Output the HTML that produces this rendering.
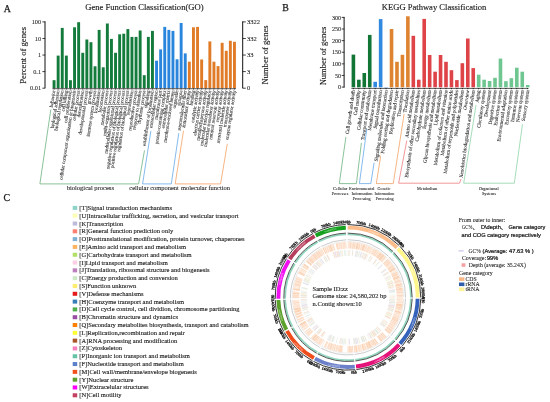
<!DOCTYPE html>
<html><head><meta charset="utf-8"><style>
html,body{margin:0;padding:0;background:#fff;width:550px;height:402px;overflow:hidden}
svg{display:block;filter:blur(0.15px)}
.s{font-family:"Liberation Serif","Noto Serif CJK SC",serif;fill:#1a1a1a;stroke:#1a1a1a;stroke-width:0.07px}
.cl{fill:#111;stroke:#111;stroke-width:0.28px}
.t{stroke-width:0.25px}
.t2{stroke-width:0.14px}
.cg{stroke-width:0.12px}
.cn{font-family:"Liberation Sans",sans-serif}
.lab{fill:#222;stroke:#222;stroke-width:0.08px}
.a{font-family:"Liberation Sans","Noto Sans CJK SC",sans-serif;fill:#1a1a1a}
.k{font-family:"Liberation Sans","Noto Sans CJK SC",sans-serif;fill:#1a1a1a;stroke:#1a1a1a;stroke-width:0.22px}
</style></head><body>
<svg width="550" height="402" viewBox="0 0 550 402">
<rect width="550" height="402" fill="#fff"/>
<text class="s t" x="3.7" y="11.5" font-size="9.8">A</text>
<text class="s t2" x="144.4" y="10.2" font-size="8.6" text-anchor="middle">Gene Function Classification(GO)</text>
<path d="M45.0 21.4 V88.2" stroke="#111" stroke-width="1.0" fill="none"/>
<path d="M42.4 21.9 H45.2" stroke="#111" stroke-width="0.8"/>
<text class="s" x="41.1" y="24.05" font-size="6.3" text-anchor="end">100</text>
<path d="M42.4 38.5 H45.2" stroke="#111" stroke-width="0.8"/>
<text class="s" x="41.1" y="40.65" font-size="6.3" text-anchor="end">10</text>
<path d="M42.4 55.05 H45.2" stroke="#111" stroke-width="0.8"/>
<text class="s" x="41.1" y="57.2" font-size="6.3" text-anchor="end">1</text>
<path d="M42.4 71.6 H45.2" stroke="#111" stroke-width="0.8"/>
<text class="s" x="41.1" y="73.75" font-size="6.3" text-anchor="end">0.1</text>
<path d="M42.4 88.2 H45.2" stroke="#111" stroke-width="0.8"/>
<text class="s" x="41.1" y="90.35" font-size="6.3" text-anchor="end">0.01</text>
<path d="M242.7 21.4 V88.2" stroke="#111" stroke-width="1.0" fill="none"/>
<path d="M242.5 21.9 H245.8" stroke="#111" stroke-width="0.8"/>
<text class="s" x="247.0" y="24.1" font-size="6.5">3322</text>
<path d="M242.5 38.5 H245.8" stroke="#111" stroke-width="0.8"/>
<text class="s" x="247.0" y="40.7" font-size="6.5">332</text>
<path d="M242.5 55.05 H245.8" stroke="#111" stroke-width="0.8"/>
<text class="s" x="247.0" y="57.25" font-size="6.5">33</text>
<path d="M242.5 71.6 H245.8" stroke="#111" stroke-width="0.8"/>
<text class="s" x="247.0" y="73.8" font-size="6.5">3</text>
<path d="M242.5 88.2 H245.8" stroke="#111" stroke-width="0.8"/>
<text class="s" x="247.0" y="90.4" font-size="6.5">0</text>
<text class="s t2" font-size="8.6" text-anchor="middle" transform="translate(26.3 55.3) rotate(-90)">Percent of genes</text>
<text class="s t2" font-size="8.6" text-anchor="middle" transform="translate(267.6 55.0) rotate(-90)">Number of genes</text>
<rect x="52.6" y="80.2" width="2.9" height="7.9" fill="#137b3b"/>
<rect x="56.7" y="55.6" width="2.9" height="32.5" fill="#137b3b"/>
<rect x="60.8" y="27.9" width="2.9" height="60.2" fill="#137b3b"/>
<rect x="64.9" y="55.6" width="2.9" height="32.5" fill="#137b3b"/>
<rect x="69" y="80.2" width="2.9" height="7.9" fill="#137b3b"/>
<rect x="73.1" y="27.3" width="2.9" height="60.8" fill="#137b3b"/>
<rect x="77.2" y="22.2" width="2.9" height="65.9" fill="#137b3b"/>
<rect x="81.3" y="52.8" width="2.9" height="35.3" fill="#137b3b"/>
<rect x="85.4" y="39.5" width="2.9" height="48.6" fill="#137b3b"/>
<rect x="89.5" y="42.2" width="2.9" height="45.9" fill="#137b3b"/>
<rect x="93.6" y="66.3" width="2.9" height="21.8" fill="#137b3b"/>
<rect x="97.7" y="29.9" width="2.9" height="58.2" fill="#137b3b"/>
<rect x="101.8" y="67.3" width="2.9" height="20.8" fill="#137b3b"/>
<rect x="105.9" y="23.5" width="2.9" height="64.6" fill="#137b3b"/>
<rect x="110" y="38.9" width="2.9" height="49.2" fill="#137b3b"/>
<rect x="114.1" y="52.8" width="2.9" height="35.3" fill="#137b3b"/>
<rect x="118.2" y="34.3" width="2.9" height="53.8" fill="#137b3b"/>
<rect x="122.3" y="33.7" width="2.9" height="54.4" fill="#137b3b"/>
<rect x="126.4" y="29.1" width="2.9" height="59" fill="#137b3b"/>
<rect x="130.5" y="36.9" width="2.9" height="51.2" fill="#137b3b"/>
<rect x="134.6" y="36.9" width="2.9" height="51.2" fill="#137b3b"/>
<rect x="138.7" y="30.5" width="2.9" height="57.6" fill="#137b3b"/>
<rect x="142.8" y="75.2" width="2.9" height="12.9" fill="#137b3b"/>
<rect x="146.9" y="36.9" width="2.9" height="51.2" fill="#137b3b"/>
<rect x="151" y="30.9" width="2.9" height="57.2" fill="#137b3b"/>
<rect x="155.1" y="60.7" width="2.9" height="27.4" fill="#2a85dc"/>
<rect x="159.2" y="49.4" width="2.9" height="38.7" fill="#2a85dc"/>
<rect x="163.3" y="26.9" width="2.9" height="61.2" fill="#2a85dc"/>
<rect x="167.4" y="29.9" width="2.9" height="58.2" fill="#2a85dc"/>
<rect x="171.5" y="30.9" width="2.9" height="57.2" fill="#2a85dc"/>
<rect x="175.6" y="59.3" width="2.9" height="28.8" fill="#2a85dc"/>
<rect x="179.7" y="23" width="2.9" height="65.1" fill="#2a85dc"/>
<rect x="183.8" y="53.4" width="2.9" height="34.7" fill="#2a85dc"/>
<rect x="187.9" y="61.7" width="2.9" height="26.4" fill="#e07b27"/>
<rect x="192" y="27.3" width="2.9" height="60.8" fill="#e07b27"/>
<rect x="196.1" y="26.9" width="2.9" height="61.2" fill="#e07b27"/>
<rect x="200.2" y="59.5" width="2.9" height="28.6" fill="#e07b27"/>
<rect x="204.3" y="80.1" width="2.9" height="8" fill="#e07b27"/>
<rect x="208.4" y="41.4" width="2.9" height="46.7" fill="#e07b27"/>
<rect x="212.5" y="61.7" width="2.9" height="26.4" fill="#e07b27"/>
<rect x="216.6" y="66.1" width="2.9" height="22" fill="#e07b27"/>
<rect x="220.7" y="42.8" width="2.9" height="45.3" fill="#e07b27"/>
<rect x="224.8" y="50.8" width="2.9" height="37.3" fill="#e07b27"/>
<rect x="228.9" y="40.8" width="2.9" height="47.3" fill="#e07b27"/>
<rect x="233" y="41.8" width="2.9" height="46.3" fill="#e07b27"/>
<path d="M52.4 88.7 H236" stroke="#111" stroke-width="0.7"/>
<path d="M54.05 88.4 V89.5" stroke="#111" stroke-width="0.8"/>
<path d="M58.15 88.4 V89.5" stroke="#111" stroke-width="0.8"/>
<path d="M62.25 88.4 V89.5" stroke="#111" stroke-width="0.8"/>
<path d="M66.35 88.4 V89.5" stroke="#111" stroke-width="0.8"/>
<path d="M70.45 88.4 V89.5" stroke="#111" stroke-width="0.8"/>
<path d="M74.55 88.4 V89.5" stroke="#111" stroke-width="0.8"/>
<path d="M78.65 88.4 V89.5" stroke="#111" stroke-width="0.8"/>
<path d="M82.75 88.4 V89.5" stroke="#111" stroke-width="0.8"/>
<path d="M86.85 88.4 V89.5" stroke="#111" stroke-width="0.8"/>
<path d="M90.95 88.4 V89.5" stroke="#111" stroke-width="0.8"/>
<path d="M95.05 88.4 V89.5" stroke="#111" stroke-width="0.8"/>
<path d="M99.15 88.4 V89.5" stroke="#111" stroke-width="0.8"/>
<path d="M103.25 88.4 V89.5" stroke="#111" stroke-width="0.8"/>
<path d="M107.35 88.4 V89.5" stroke="#111" stroke-width="0.8"/>
<path d="M111.45 88.4 V89.5" stroke="#111" stroke-width="0.8"/>
<path d="M115.55 88.4 V89.5" stroke="#111" stroke-width="0.8"/>
<path d="M119.65 88.4 V89.5" stroke="#111" stroke-width="0.8"/>
<path d="M123.75 88.4 V89.5" stroke="#111" stroke-width="0.8"/>
<path d="M127.85 88.4 V89.5" stroke="#111" stroke-width="0.8"/>
<path d="M131.95 88.4 V89.5" stroke="#111" stroke-width="0.8"/>
<path d="M136.05 88.4 V89.5" stroke="#111" stroke-width="0.8"/>
<path d="M140.15 88.4 V89.5" stroke="#111" stroke-width="0.8"/>
<path d="M144.25 88.4 V89.5" stroke="#111" stroke-width="0.8"/>
<path d="M148.35 88.4 V89.5" stroke="#111" stroke-width="0.8"/>
<path d="M152.45 88.4 V89.5" stroke="#111" stroke-width="0.8"/>
<path d="M156.55 88.4 V89.5" stroke="#111" stroke-width="0.8"/>
<path d="M160.65 88.4 V89.5" stroke="#111" stroke-width="0.8"/>
<path d="M164.75 88.4 V89.5" stroke="#111" stroke-width="0.8"/>
<path d="M168.85 88.4 V89.5" stroke="#111" stroke-width="0.8"/>
<path d="M172.95 88.4 V89.5" stroke="#111" stroke-width="0.8"/>
<path d="M177.05 88.4 V89.5" stroke="#111" stroke-width="0.8"/>
<path d="M181.15 88.4 V89.5" stroke="#111" stroke-width="0.8"/>
<path d="M185.25 88.4 V89.5" stroke="#111" stroke-width="0.8"/>
<path d="M189.35 88.4 V89.5" stroke="#111" stroke-width="0.8"/>
<path d="M193.45 88.4 V89.5" stroke="#111" stroke-width="0.8"/>
<path d="M197.55 88.4 V89.5" stroke="#111" stroke-width="0.8"/>
<path d="M201.65 88.4 V89.5" stroke="#111" stroke-width="0.8"/>
<path d="M205.75 88.4 V89.5" stroke="#111" stroke-width="0.8"/>
<path d="M209.85 88.4 V89.5" stroke="#111" stroke-width="0.8"/>
<path d="M213.95 88.4 V89.5" stroke="#111" stroke-width="0.8"/>
<path d="M218.05 88.4 V89.5" stroke="#111" stroke-width="0.8"/>
<path d="M222.15 88.4 V89.5" stroke="#111" stroke-width="0.8"/>
<path d="M226.25 88.4 V89.5" stroke="#111" stroke-width="0.8"/>
<path d="M230.35 88.4 V89.5" stroke="#111" stroke-width="0.8"/>
<path d="M234.45 88.4 V89.5" stroke="#111" stroke-width="0.8"/>
<text class="s lab" x="0" y="0" font-size="4.9" text-anchor="end" transform="translate(55.35 90.6) rotate(-81.5)">behavior</text>
<text class="s lab" x="0" y="0" font-size="4.9" text-anchor="end" transform="translate(59.45 90.6) rotate(-81.5)">biological adhesion</text>
<text class="s lab" x="0" y="0" font-size="4.9" text-anchor="end" transform="translate(63.55 90.6) rotate(-81.5)">biological regulation</text>
<text class="s lab" x="0" y="0" font-size="4.9" text-anchor="end" transform="translate(67.65 90.6) rotate(-81.5)">cell killing</text>
<text class="s lab" x="0" y="0" font-size="4.9" text-anchor="end" transform="translate(71.75 90.6) rotate(-81.5)">cell proliferation</text>
<text class="s lab" x="0" y="0" font-size="4.9" text-anchor="end" transform="translate(75.85 90.6) rotate(-81.5)">cellular component organization or biogenesis</text>
<text class="s lab" x="0" y="0" font-size="4.9" text-anchor="end" transform="translate(79.95 90.6) rotate(-81.5)">cellular process</text>
<text class="s lab" x="0" y="0" font-size="4.9" text-anchor="end" transform="translate(84.05 90.6) rotate(-81.5)">detoxification</text>
<text class="s lab" x="0" y="0" font-size="4.9" text-anchor="end" transform="translate(88.15 90.6) rotate(-81.5)">developmental process</text>
<text class="s lab" x="0" y="0" font-size="4.9" text-anchor="end" transform="translate(92.25 90.6) rotate(-81.5)">growth</text>
<text class="s lab" x="0" y="0" font-size="4.9" text-anchor="end" transform="translate(96.35 90.6) rotate(-81.5)">immune system process</text>
<text class="s lab" x="0" y="0" font-size="4.9" text-anchor="end" transform="translate(100.45 90.6) rotate(-81.5)">localization</text>
<text class="s lab" x="0" y="0" font-size="4.9" text-anchor="end" transform="translate(104.55 90.6) rotate(-81.5)">locomotion</text>
<text class="s lab" x="0" y="0" font-size="4.9" text-anchor="end" transform="translate(108.65 90.6) rotate(-81.5)">metabolic process</text>
<text class="s lab" x="0" y="0" font-size="4.9" text-anchor="end" transform="translate(112.75 90.6) rotate(-81.5)">multi-organism process</text>
<text class="s lab" x="0" y="0" font-size="4.9" text-anchor="end" transform="translate(116.85 90.6) rotate(-81.5)">multicellular organismal process</text>
<text class="s lab" x="0" y="0" font-size="4.9" text-anchor="end" transform="translate(120.95 90.6) rotate(-81.5)">negative regulation of biological process</text>
<text class="s lab" x="0" y="0" font-size="4.9" text-anchor="end" transform="translate(125.05 90.6) rotate(-81.5)">positive regulation of biological process</text>
<text class="s lab" x="0" y="0" font-size="4.9" text-anchor="end" transform="translate(129.15 90.6) rotate(-81.5)">regulation of biological process</text>
<text class="s lab" x="0" y="0" font-size="4.9" text-anchor="end" transform="translate(133.25 90.6) rotate(-81.5)">reproduction</text>
<text class="s lab" x="0" y="0" font-size="4.9" text-anchor="end" transform="translate(137.35 90.6) rotate(-81.5)">reproductive process</text>
<text class="s lab" x="0" y="0" font-size="4.9" text-anchor="end" transform="translate(141.45 90.6) rotate(-81.5)">response to stimulus</text>
<text class="s lab" x="0" y="0" font-size="4.9" text-anchor="end" transform="translate(145.55 90.6) rotate(-81.5)">rhythmic process</text>
<text class="s lab" x="0" y="0" font-size="4.9" text-anchor="end" transform="translate(149.65 90.6) rotate(-81.5)">signaling</text>
<text class="s lab" x="0" y="0" font-size="4.9" text-anchor="end" transform="translate(153.75 90.6) rotate(-81.5)">establishment of localization</text>
<text class="s lab" x="0" y="0" font-size="4.9" text-anchor="end" transform="translate(157.85 90.6) rotate(-81.5)">extracellular region</text>
<text class="s lab" x="0" y="0" font-size="4.9" text-anchor="end" transform="translate(161.95 90.6) rotate(-81.5)">membrane part</text>
<text class="s lab" x="0" y="0" font-size="4.9" text-anchor="end" transform="translate(166.05 90.6) rotate(-81.5)">protein-containing complex</text>
<text class="s lab" x="0" y="0" font-size="4.9" text-anchor="end" transform="translate(170.15 90.6) rotate(-81.5)">extracellular matrix</text>
<text class="s lab" x="0" y="0" font-size="4.9" text-anchor="end" transform="translate(174.25 90.6) rotate(-81.5)">membrane-enclosed lumen</text>
<text class="s lab" x="0" y="0" font-size="4.9" text-anchor="end" transform="translate(178.35 90.6) rotate(-81.5)">organelle</text>
<text class="s lab" x="0" y="0" font-size="4.9" text-anchor="end" transform="translate(182.45 90.6) rotate(-81.5)">synapse</text>
<text class="s lab" x="0" y="0" font-size="4.9" text-anchor="end" transform="translate(186.55 90.6) rotate(-81.5)">supramolecular fiber</text>
<text class="s lab" x="0" y="0" font-size="4.9" text-anchor="end" transform="translate(190.65 90.6) rotate(-81.5)">antioxidant activity</text>
<text class="s lab" x="0" y="0" font-size="4.9" text-anchor="end" transform="translate(194.75 90.6) rotate(-81.5)">binding</text>
<text class="s lab" x="0" y="0" font-size="4.9" text-anchor="end" transform="translate(198.85 90.6) rotate(-81.5)">catalytic activity</text>
<text class="s lab" x="0" y="0" font-size="4.9" text-anchor="end" transform="translate(202.95 90.6) rotate(-81.5)">electron carrier activity</text>
<text class="s lab" x="0" y="0" font-size="4.9" text-anchor="end" transform="translate(207.05 90.6) rotate(-81.5)">metallochaperone activity</text>
<text class="s lab" x="0" y="0" font-size="4.9" text-anchor="end" transform="translate(211.15 90.6) rotate(-81.5)">molecular function regulator</text>
<text class="s lab" x="0" y="0" font-size="4.9" text-anchor="end" transform="translate(215.25 90.6) rotate(-81.5)">molecular transducer activity</text>
<text class="s lab" x="0" y="0" font-size="4.9" text-anchor="end" transform="translate(219.35 90.6) rotate(-81.5)">nutrient reservoir activity</text>
<text class="s lab" x="0" y="0" font-size="4.9" text-anchor="end" transform="translate(223.45 90.6) rotate(-81.5)">receptor activity</text>
<text class="s lab" x="0" y="0" font-size="4.9" text-anchor="end" transform="translate(227.55 90.6) rotate(-81.5)">structural molecule activity</text>
<text class="s lab" x="0" y="0" font-size="4.9" text-anchor="end" transform="translate(231.65 90.6) rotate(-81.5)">transporter activity</text>
<text class="s lab" x="0" y="0" font-size="4.9" text-anchor="end" transform="translate(235.75 90.6) rotate(-81.5)">enzyme regulator activity</text>
<path d="M50.8 109.5 L39.9 183.9 H138.6 L144.5 150.4" stroke="#6db37f" stroke-width="0.8" fill="none"/>
<path d="M150.9 130.8 L142.6 183.9 H171.3 L178.8 133.1" stroke="#66aaea" stroke-width="0.8" fill="none"/>
<path d="M183.5 130.8 L175.2 183.9 H220.6 L227.3 143.8" stroke="#f2a266" stroke-width="0.8" fill="none"/>
<text class="s" x="90.3" y="190.2" font-size="6.45" text-anchor="middle" textLength="47.3" lengthAdjust="spacingAndGlyphs">biological process</text>
<text class="s" x="154.05" y="190.2" font-size="6.45" text-anchor="middle" textLength="49.5" lengthAdjust="spacingAndGlyphs">cellular component</text>
<text class="s" x="205.5" y="190.2" font-size="6.45" text-anchor="middle" textLength="49.0" lengthAdjust="spacingAndGlyphs">molecular function</text>
<text class="s t" x="282.2" y="10.9" font-size="9.8">B</text>
<text class="s t2" x="434.1" y="9.9" font-size="8.55" text-anchor="middle">KEGG Pathway Classification</text>
<path d="M344.1 16.9 V87.6" stroke="#111" stroke-width="1.0" fill="none"/>
<path d="M341.7 87.1 H344.3" stroke="#111" stroke-width="0.8"/>
<text class="s" x="341.2" y="89.2" font-size="6.2" text-anchor="end">0</text>
<path d="M341.7 75.48 H344.3" stroke="#111" stroke-width="0.8"/>
<text class="s" x="341.2" y="77.58" font-size="6.2" text-anchor="end">50</text>
<path d="M341.7 63.87 H344.3" stroke="#111" stroke-width="0.8"/>
<text class="s" x="341.2" y="65.97" font-size="6.2" text-anchor="end">100</text>
<path d="M341.7 52.25 H344.3" stroke="#111" stroke-width="0.8"/>
<text class="s" x="341.2" y="54.35" font-size="6.2" text-anchor="end">150</text>
<path d="M341.7 40.63 H344.3" stroke="#111" stroke-width="0.8"/>
<text class="s" x="341.2" y="42.73" font-size="6.2" text-anchor="end">200</text>
<path d="M341.7 29.02 H344.3" stroke="#111" stroke-width="0.8"/>
<text class="s" x="341.2" y="31.12" font-size="6.2" text-anchor="end">250</text>
<path d="M341.7 17.4 H344.3" stroke="#111" stroke-width="0.8"/>
<text class="s" x="341.2" y="19.5" font-size="6.2" text-anchor="end">300</text>
<text class="s t2" font-size="8.5" text-anchor="middle" transform="translate(326.0 56.0) rotate(-90)">Number of genes</text>
<rect x="351.6" y="54.6" width="3.6" height="32.7" fill="#117535"/>
<rect x="357.05" y="79.7" width="3.6" height="7.6" fill="#117535"/>
<rect x="362.49" y="73" width="3.6" height="14.3" fill="#117535"/>
<rect x="367.94" y="34.9" width="3.6" height="52.4" fill="#117535"/>
<rect x="373.39" y="81.8" width="3.6" height="5.5" fill="#3189e0"/>
<rect x="378.84" y="19.1" width="3.6" height="68.2" fill="#3189e0"/>
<rect x="384.28" y="87" width="3.6" height="0.3" fill="#3189e0"/>
<rect x="389.73" y="29" width="3.6" height="58.3" fill="#de8330"/>
<rect x="395.18" y="61.8" width="3.6" height="25.5" fill="#de8330"/>
<rect x="400.62" y="54.8" width="3.6" height="32.5" fill="#de8330"/>
<rect x="406.07" y="16.3" width="3.6" height="71" fill="#de8330"/>
<rect x="411.52" y="35.8" width="3.6" height="51.5" fill="#de4348"/>
<rect x="416.96" y="79.7" width="3.6" height="7.6" fill="#de4348"/>
<rect x="422.41" y="18.9" width="3.6" height="68.4" fill="#de4348"/>
<rect x="427.86" y="55" width="3.6" height="32.3" fill="#de4348"/>
<rect x="433.31" y="71.7" width="3.6" height="15.6" fill="#de4348"/>
<rect x="438.75" y="55" width="3.6" height="32.3" fill="#de4348"/>
<rect x="444.2" y="61.8" width="3.6" height="25.5" fill="#de4348"/>
<rect x="449.65" y="70.2" width="3.6" height="17.1" fill="#de4348"/>
<rect x="455.09" y="80.1" width="3.6" height="7.2" fill="#de4348"/>
<rect x="460.54" y="63.2" width="3.6" height="24.1" fill="#de4348"/>
<rect x="465.99" y="38.5" width="3.6" height="48.8" fill="#de4348"/>
<rect x="471.43" y="68.1" width="3.6" height="19.2" fill="#de4348"/>
<rect x="476.88" y="74.7" width="3.6" height="12.6" fill="#6fc690"/>
<rect x="482.33" y="79.7" width="3.6" height="7.6" fill="#6fc690"/>
<rect x="487.78" y="81" width="3.6" height="6.3" fill="#6fc690"/>
<rect x="493.22" y="77.8" width="3.6" height="9.5" fill="#6fc690"/>
<rect x="498.67" y="58.6" width="3.6" height="28.7" fill="#6fc690"/>
<rect x="504.12" y="81.2" width="3.6" height="6.1" fill="#6fc690"/>
<rect x="509.56" y="78.2" width="3.6" height="9.1" fill="#6fc690"/>
<rect x="515.01" y="67.7" width="3.6" height="19.6" fill="#6fc690"/>
<rect x="520.46" y="71.7" width="3.6" height="15.6" fill="#6fc690"/>
<rect x="525.9" y="85" width="3.6" height="2.3" fill="#6fc690"/>
<path d="M351.4 88.4 H528.3" stroke="#111" stroke-width="0.7"/>
<path d="M353.4 88.1 V89.2" stroke="#111" stroke-width="0.9"/>
<path d="M358.85 88.1 V89.2" stroke="#111" stroke-width="0.9"/>
<path d="M364.29 88.1 V89.2" stroke="#111" stroke-width="0.9"/>
<path d="M369.74 88.1 V89.2" stroke="#111" stroke-width="0.9"/>
<path d="M375.19 88.1 V89.2" stroke="#111" stroke-width="0.9"/>
<path d="M380.64 88.1 V89.2" stroke="#111" stroke-width="0.9"/>
<path d="M386.08 88.1 V89.2" stroke="#111" stroke-width="0.9"/>
<path d="M391.53 88.1 V89.2" stroke="#111" stroke-width="0.9"/>
<path d="M396.98 88.1 V89.2" stroke="#111" stroke-width="0.9"/>
<path d="M402.42 88.1 V89.2" stroke="#111" stroke-width="0.9"/>
<path d="M407.87 88.1 V89.2" stroke="#111" stroke-width="0.9"/>
<path d="M413.32 88.1 V89.2" stroke="#111" stroke-width="0.9"/>
<path d="M418.76 88.1 V89.2" stroke="#111" stroke-width="0.9"/>
<path d="M424.21 88.1 V89.2" stroke="#111" stroke-width="0.9"/>
<path d="M429.66 88.1 V89.2" stroke="#111" stroke-width="0.9"/>
<path d="M435.11 88.1 V89.2" stroke="#111" stroke-width="0.9"/>
<path d="M440.55 88.1 V89.2" stroke="#111" stroke-width="0.9"/>
<path d="M446 88.1 V89.2" stroke="#111" stroke-width="0.9"/>
<path d="M451.45 88.1 V89.2" stroke="#111" stroke-width="0.9"/>
<path d="M456.89 88.1 V89.2" stroke="#111" stroke-width="0.9"/>
<path d="M462.34 88.1 V89.2" stroke="#111" stroke-width="0.9"/>
<path d="M467.79 88.1 V89.2" stroke="#111" stroke-width="0.9"/>
<path d="M473.23 88.1 V89.2" stroke="#111" stroke-width="0.9"/>
<path d="M478.68 88.1 V89.2" stroke="#111" stroke-width="0.9"/>
<path d="M484.13 88.1 V89.2" stroke="#111" stroke-width="0.9"/>
<path d="M489.58 88.1 V89.2" stroke="#111" stroke-width="0.9"/>
<path d="M495.02 88.1 V89.2" stroke="#111" stroke-width="0.9"/>
<path d="M500.47 88.1 V89.2" stroke="#111" stroke-width="0.9"/>
<path d="M505.92 88.1 V89.2" stroke="#111" stroke-width="0.9"/>
<path d="M511.36 88.1 V89.2" stroke="#111" stroke-width="0.9"/>
<path d="M516.81 88.1 V89.2" stroke="#111" stroke-width="0.9"/>
<path d="M522.26 88.1 V89.2" stroke="#111" stroke-width="0.9"/>
<path d="M527.7 88.1 V89.2" stroke="#111" stroke-width="0.9"/>
<text class="s lab" x="0" y="0" font-size="5.0" text-anchor="end" transform="translate(354.9 90.4) rotate(-82)">Cell growth and death</text>
<text class="s lab" x="0" y="0" font-size="5.0" text-anchor="end" transform="translate(360.35 90.4) rotate(-82)">Cell motility</text>
<text class="s lab" x="0" y="0" font-size="5.0" text-anchor="end" transform="translate(365.79 90.4) rotate(-82)">Cellular community</text>
<text class="s lab" x="0" y="0" font-size="5.0" text-anchor="end" transform="translate(371.24 90.4) rotate(-82)">Transport and catabolism</text>
<text class="s lab" x="0" y="0" font-size="5.0" text-anchor="end" transform="translate(376.69 90.4) rotate(-82)">Membrane transport</text>
<text class="s lab" x="0" y="0" font-size="5.0" text-anchor="end" transform="translate(382.14 90.4) rotate(-82)">Signal transduction</text>
<text class="s lab" x="0" y="0" font-size="5.0" text-anchor="end" transform="translate(387.58 90.4) rotate(-82)">Signaling molecules and interaction</text>
<text class="s lab" x="0" y="0" font-size="5.0" text-anchor="end" transform="translate(393.03 90.4) rotate(-82)">Folding sorting and degradation</text>
<text class="s lab" x="0" y="0" font-size="5.0" text-anchor="end" transform="translate(398.48 90.4) rotate(-82)">Replication and repair</text>
<text class="s lab" x="0" y="0" font-size="5.0" text-anchor="end" transform="translate(403.92 90.4) rotate(-82)">Transcription</text>
<text class="s lab" x="0" y="0" font-size="5.0" text-anchor="end" transform="translate(409.37 90.4) rotate(-82)">Translation</text>
<text class="s lab" x="0" y="0" font-size="5.0" text-anchor="end" transform="translate(414.82 90.4) rotate(-82)">Amino acid metabolism</text>
<text class="s lab" x="0" y="0" font-size="5.0" text-anchor="end" transform="translate(420.26 90.4) rotate(-82)">Biosynthesis of other secondary metabolites</text>
<text class="s lab" x="0" y="0" font-size="5.0" text-anchor="end" transform="translate(425.71 90.4) rotate(-82)">Carbohydrate metabolism</text>
<text class="s lab" x="0" y="0" font-size="5.0" text-anchor="end" transform="translate(431.16 90.4) rotate(-82)">Energy metabolism</text>
<text class="s lab" x="0" y="0" font-size="5.0" text-anchor="end" transform="translate(436.61 90.4) rotate(-82)">Glycan biosynthesis and metabolism</text>
<text class="s lab" x="0" y="0" font-size="5.0" text-anchor="end" transform="translate(442.05 90.4) rotate(-82)">Lipid metabolism</text>
<text class="s lab" x="0" y="0" font-size="5.0" text-anchor="end" transform="translate(447.5 90.4) rotate(-82)">Metabolism of cofactors and vitamins</text>
<text class="s lab" x="0" y="0" font-size="5.0" text-anchor="end" transform="translate(452.95 90.4) rotate(-82)">Metabolism of other amino acids</text>
<text class="s lab" x="0" y="0" font-size="5.0" text-anchor="end" transform="translate(458.39 90.4) rotate(-82)">Metabolism of terpenoids and polyketides</text>
<text class="s lab" x="0" y="0" font-size="5.0" text-anchor="end" transform="translate(463.84 90.4) rotate(-82)">Nucleotide metabolism</text>
<text class="s lab" x="0" y="0" font-size="5.0" text-anchor="end" transform="translate(469.29 90.4) rotate(-82)">Overview</text>
<text class="s lab" x="0" y="0" font-size="5.0" text-anchor="end" transform="translate(474.73 90.4) rotate(-82)">Xenobiotics biodegradation and metabolism</text>
<text class="s lab" x="0" y="0" font-size="5.0" text-anchor="end" transform="translate(480.18 90.4) rotate(-82)">Aging</text>
<text class="s lab" x="0" y="0" font-size="5.0" text-anchor="end" transform="translate(485.63 90.4) rotate(-82)">Circulatory system</text>
<text class="s lab" x="0" y="0" font-size="5.0" text-anchor="end" transform="translate(491.08 90.4) rotate(-82)">Development</text>
<text class="s lab" x="0" y="0" font-size="5.0" text-anchor="end" transform="translate(496.52 90.4) rotate(-82)">Digestive system</text>
<text class="s lab" x="0" y="0" font-size="5.0" text-anchor="end" transform="translate(501.97 90.4) rotate(-82)">Endocrine system</text>
<text class="s lab" x="0" y="0" font-size="5.0" text-anchor="end" transform="translate(507.42 90.4) rotate(-82)">Environmental adaptation</text>
<text class="s lab" x="0" y="0" font-size="5.0" text-anchor="end" transform="translate(512.86 90.4) rotate(-82)">Excretory system</text>
<text class="s lab" x="0" y="0" font-size="5.0" text-anchor="end" transform="translate(518.31 90.4) rotate(-82)">Immune system</text>
<text class="s lab" x="0" y="0" font-size="5.0" text-anchor="end" transform="translate(523.76 90.4) rotate(-82)">Nervous system</text>
<text class="s lab" x="0" y="0" font-size="5.0" text-anchor="end" transform="translate(529.2 90.4) rotate(-82)">Sensory system</text>
<path d="M345.9 136.9 L339.3 183.6 H356.4 L361.4 142.9" stroke="#6db37f" stroke-width="0.8" fill="none"/>
<path d="M366.8 129.0 L359.4 183.6 H370.8 L374.1 162.7" stroke="#66aaea" stroke-width="0.8" fill="none"/>
<path d="M380.7 155.8 L376.3 183.6 H393.3 L404.1 114.0" stroke="#f2a266" stroke-width="0.8" fill="none"/>
<path d="M406.8 140.6 L398.6 183.2 H459.5 L461.0 178.9" stroke="#ee7d80" stroke-width="0.8" fill="none"/>
<path d="M476.0 105.0 L463.7 183.2 H514.3 L522.5 124.2" stroke="#8fd4a8" stroke-width="0.8" fill="none"/>
<text class="s" x="340.1" y="189.6" font-size="4.3" text-anchor="middle" textLength="14" lengthAdjust="spacingAndGlyphs">Cellular</text>
<text class="s" x="340.1" y="194.6" font-size="4.3" text-anchor="middle" textLength="16.6" lengthAdjust="spacingAndGlyphs">Processes</text>
<text class="s" x="361.8" y="189.6" font-size="4.3" text-anchor="middle" textLength="25.5" lengthAdjust="spacingAndGlyphs">Environmental</text>
<text class="s" x="362" y="194.6" font-size="4.3" text-anchor="middle" textLength="21" lengthAdjust="spacingAndGlyphs">Information</text>
<text class="s" x="361.7" y="199.7" font-size="4.3" text-anchor="middle" textLength="17.8" lengthAdjust="spacingAndGlyphs">Processing</text>
<text class="s" x="384" y="189.6" font-size="4.3" text-anchor="middle" textLength="12.8" lengthAdjust="spacingAndGlyphs">Genetic</text>
<text class="s" x="384.4" y="194.6" font-size="4.3" text-anchor="middle" textLength="19.7" lengthAdjust="spacingAndGlyphs">Information</text>
<text class="s" x="384.6" y="199.7" font-size="4.3" text-anchor="middle" textLength="17.8" lengthAdjust="spacingAndGlyphs">Processing</text>
<text class="s" x="427.2" y="189.6" font-size="4.3" text-anchor="middle" textLength="20.4" lengthAdjust="spacingAndGlyphs">Metabolism</text>
<text class="s" x="488.8" y="189.6" font-size="4.3" text-anchor="middle" textLength="19.6" lengthAdjust="spacingAndGlyphs">Organismal</text>
<text class="s" x="489" y="195" font-size="4.3" text-anchor="middle" textLength="14" lengthAdjust="spacingAndGlyphs">Systems</text>
<text class="s t" x="3.4" y="201.0" font-size="9.8">C</text>
<rect x="72.7" y="205.9" width="4.5" height="4.0" fill="#8dd3c7"/>
<text class="s cg" x="79.3" y="209.9" font-size="6.52">[T]Signal transduction mechanisms</text>
<rect x="72.7" y="213.71" width="4.5" height="4.0" fill="#ffffb3"/>
<text class="s cg" x="79.3" y="217.71" font-size="6.52">[U]Intracellular trafficking, secretion, and vesicular transport</text>
<rect x="72.7" y="221.52" width="4.5" height="4.0" fill="#bebada"/>
<text class="s cg" x="79.3" y="225.52" font-size="6.52">[K]Transcription</text>
<rect x="72.7" y="229.32" width="4.5" height="4.0" fill="#fb8072"/>
<text class="s cg" x="79.3" y="233.32" font-size="6.52">[R]General function prediction only</text>
<rect x="72.7" y="237.13" width="4.5" height="4.0" fill="#80b1d3"/>
<text class="s cg" x="79.3" y="241.13" font-size="6.52">[O]Posttranslational modification, protein turnover, chaperones</text>
<rect x="72.7" y="244.94" width="4.5" height="4.0" fill="#fdb462"/>
<text class="s cg" x="79.3" y="248.94" font-size="6.52">[E]Amino acid transport and metabolism</text>
<rect x="72.7" y="252.75" width="4.5" height="4.0" fill="#b3de69"/>
<text class="s cg" x="79.3" y="256.75" font-size="6.52">[G]Carbohydrate transport and metabolism</text>
<rect x="72.7" y="260.56" width="4.5" height="4.0" fill="#fccde5"/>
<text class="s cg" x="79.3" y="264.56" font-size="6.52">[I]Lipid transport and metabolism</text>
<rect x="72.7" y="268.36" width="4.5" height="4.0" fill="#bc80bd"/>
<text class="s cg" x="79.3" y="272.36" font-size="6.52">[J]Translation, ribosomal structure and biogenesis</text>
<rect x="72.7" y="276.17" width="4.5" height="4.0" fill="#ccebc5"/>
<text class="s cg" x="79.3" y="280.17" font-size="6.52">[C]Energy production and conversion</text>
<rect x="72.7" y="283.98" width="4.5" height="4.0" fill="#ffed6f"/>
<text class="s cg" x="79.3" y="287.98" font-size="6.52">[S]Function unknown</text>
<rect x="72.7" y="291.79" width="4.5" height="4.0" fill="#e41a1c"/>
<text class="s cg" x="79.3" y="295.79" font-size="6.52">[V]Defense mechanisms</text>
<rect x="72.7" y="299.6" width="4.5" height="4.0" fill="#377eb8"/>
<text class="s cg" x="79.3" y="303.6" font-size="6.52">[H]Coenzyme transport and metabolism</text>
<rect x="72.7" y="307.4" width="4.5" height="4.0" fill="#4daf4a"/>
<text class="s cg" x="79.3" y="311.4" font-size="6.52">[D]Cell cycle control, cell dividion, chromosome partitioning</text>
<rect x="72.7" y="315.21" width="4.5" height="4.0" fill="#984ea3"/>
<text class="s cg" x="79.3" y="319.21" font-size="6.52">[B]Chromatin structure and dynamics</text>
<rect x="72.7" y="323.02" width="4.5" height="4.0" fill="#ff7f00"/>
<text class="s cg" x="79.3" y="327.02" font-size="6.52">[Q]Secondary metabolites biosynthesis, transport and catabolism</text>
<rect x="72.7" y="330.83" width="4.5" height="4.0" fill="#ffff33"/>
<text class="s cg" x="79.3" y="334.83" font-size="6.52">[L]Replication,recombination and repair</text>
<rect x="72.7" y="338.64" width="4.5" height="4.0" fill="#a65628"/>
<text class="s cg" x="79.3" y="342.64" font-size="6.52">[A]RNA processing and modification</text>
<rect x="72.7" y="346.44" width="4.5" height="4.0" fill="#f781bf"/>
<text class="s cg" x="79.3" y="350.44" font-size="6.52">[Z]Cytoskeleton</text>
<rect x="72.7" y="354.25" width="4.5" height="4.0" fill="#66c2a5"/>
<text class="s cg" x="79.3" y="358.25" font-size="6.52">[P]Inorganic ion transport and metabolism</text>
<rect x="72.7" y="362.06" width="4.5" height="4.0" fill="#5b7fc9"/>
<text class="s cg" x="79.3" y="366.06" font-size="6.52">[F]Nucleotide transport and metabolism</text>
<rect x="72.7" y="369.87" width="4.5" height="4.0" fill="#f2501e"/>
<text class="s cg" x="79.3" y="373.87" font-size="6.52">[M]Cell wall/membrane/envelope biogenesis</text>
<rect x="72.7" y="377.68" width="4.5" height="4.0" fill="#5aa02c"/>
<text class="s cg" x="79.3" y="381.68" font-size="6.52">[Y]Nuclear structure</text>
<rect x="72.7" y="385.48" width="4.5" height="4.0" fill="#ff00ff"/>
<text class="s cg" x="79.3" y="389.48" font-size="6.52">[W]Extracelular structures</text>
<rect x="72.7" y="393.29" width="4.5" height="4.0" fill="#c44060"/>
<text class="s cg" x="79.3" y="397.29" font-size="6.52">[N]Cell motility</text>
<path d="M347.67 233.5 A63.8 63.8 0 0 1 392.8 251.87 L391.53 253.15 A62 62 0 0 0 347.68 235.3 Z" fill="#92d6bf"/>
<path d="M347.66 233.1 A64.2 64.2 0 0 1 393.08 251.59" fill="none" stroke="#2f2f2f" stroke-width="0.8"/>
<path d="M347.7 239.7 A57.6 57.6 0 0 1 388.44 256.29" fill="none" stroke="#999" stroke-width="0.5"/>
<path d="M347.71 241.5 A55.8 55.8 0 0 1 387.18 257.57" fill="none" stroke="#cfcfcf" stroke-width="0.4"/>
<path d="M393.58 252.66 A63.8 63.8 0 0 1 411.8 297.52 L410 297.52 A62 62 0 0 0 392.3 253.92 Z" fill="#92d6bf"/>
<path d="M393.87 252.38 A64.2 64.2 0 0 1 412.2 297.52" fill="none" stroke="#2f2f2f" stroke-width="0.8"/>
<path d="M389.15 257 A57.6 57.6 0 0 1 405.6 297.5" fill="none" stroke="#999" stroke-width="0.5"/>
<path d="M387.87 258.26 A55.8 55.8 0 0 1 403.8 297.49" fill="none" stroke="#cfcfcf" stroke-width="0.4"/>
<path d="M411.79 298.64 A63.8 63.8 0 0 1 395.56 339.82 L394.22 338.63 A62 62 0 0 0 409.99 298.6 Z" fill="#92d6bf"/>
<path d="M412.19 298.64 A64.2 64.2 0 0 1 395.86 340.09" fill="none" stroke="#2f2f2f" stroke-width="0.8"/>
<path d="M405.59 298.51 A57.6 57.6 0 0 1 390.94 335.69" fill="none" stroke="#999" stroke-width="0.5"/>
<path d="M403.79 298.47 A55.8 55.8 0 0 1 389.6 334.49" fill="none" stroke="#cfcfcf" stroke-width="0.4"/>
<path d="M394.81 340.65 A63.8 63.8 0 0 1 355.33 360.68 L355.13 358.89 A62 62 0 0 0 393.49 339.43 Z" fill="#92d6bf"/>
<path d="M395.11 340.92 A64.2 64.2 0 0 1 355.38 361.07" fill="none" stroke="#2f2f2f" stroke-width="0.8"/>
<path d="M390.26 336.44 A57.6 57.6 0 0 1 354.62 354.52" fill="none" stroke="#999" stroke-width="0.5"/>
<path d="M388.94 335.21 A55.8 55.8 0 0 1 354.41 352.73" fill="none" stroke="#cfcfcf" stroke-width="0.4"/>
<path d="M354.23 360.8 A63.8 63.8 0 0 1 317.75 353.47 L318.61 351.89 A62 62 0 0 0 354.05 359 Z" fill="#92d6bf"/>
<path d="M354.26 361.19 A64.2 64.2 0 0 1 317.56 353.83" fill="none" stroke="#2f2f2f" stroke-width="0.8"/>
<path d="M353.62 354.63 A57.6 57.6 0 0 1 320.69 348.02" fill="none" stroke="#999" stroke-width="0.5"/>
<path d="M353.45 352.83 A55.8 55.8 0 0 1 321.55 346.43" fill="none" stroke="#cfcfcf" stroke-width="0.4"/>
<path d="M316.78 352.94 A63.8 63.8 0 0 1 292.09 328.04 L293.67 327.17 A62 62 0 0 0 317.66 351.37 Z" fill="#92d6bf"/>
<path d="M316.58 353.29 A64.2 64.2 0 0 1 291.74 328.23" fill="none" stroke="#2f2f2f" stroke-width="0.8"/>
<path d="M319.81 347.53 A57.6 57.6 0 0 1 297.52 325.05" fill="none" stroke="#999" stroke-width="0.5"/>
<path d="M320.69 345.96 A55.8 55.8 0 0 1 299.1 324.18" fill="none" stroke="#cfcfcf" stroke-width="0.4"/>
<path d="M291.56 327.06 A63.8 63.8 0 0 1 284.25 299.75 L286.05 299.68 A62 62 0 0 0 293.16 326.22 Z" fill="#92d6bf"/>
<path d="M291.21 327.24 A64.2 64.2 0 0 1 283.85 299.76" fill="none" stroke="#2f2f2f" stroke-width="0.8"/>
<path d="M297.05 324.16 A57.6 57.6 0 0 1 290.44 299.51" fill="none" stroke="#999" stroke-width="0.5"/>
<path d="M298.64 323.32 A55.8 55.8 0 0 1 292.24 299.44" fill="none" stroke="#cfcfcf" stroke-width="0.4"/>
<path d="M284.21 298.64 A63.8 63.8 0 0 1 294.01 263.3 L295.54 264.26 A62 62 0 0 0 286.01 298.6 Z" fill="#92d6bf"/>
<path d="M283.81 298.64 A64.2 64.2 0 0 1 293.67 263.09" fill="none" stroke="#2f2f2f" stroke-width="0.8"/>
<path d="M290.41 298.51 A57.6 57.6 0 0 1 299.26 266.61" fill="none" stroke="#999" stroke-width="0.5"/>
<path d="M292.21 298.47 A55.8 55.8 0 0 1 300.78 267.57" fill="none" stroke="#cfcfcf" stroke-width="0.4"/>
<path d="M294.61 262.37 A63.8 63.8 0 0 1 317.46 241.28 L318.32 242.87 A62 62 0 0 0 296.12 263.35 Z" fill="#92d6bf"/>
<path d="M294.28 262.15 A64.2 64.2 0 0 1 317.27 240.93" fill="none" stroke="#2f2f2f" stroke-width="0.8"/>
<path d="M299.8 265.76 A57.6 57.6 0 0 1 320.43 246.73" fill="none" stroke="#999" stroke-width="0.5"/>
<path d="M301.31 266.75 A55.8 55.8 0 0 1 321.29 248.31" fill="none" stroke="#cfcfcf" stroke-width="0.4"/>
<path d="M318.44 240.76 A63.8 63.8 0 0 1 346 233.53 L346.05 235.33 A62 62 0 0 0 319.28 242.36 Z" fill="#92d6bf"/>
<path d="M318.26 240.41 A64.2 64.2 0 0 1 345.98 233.13" fill="none" stroke="#2f2f2f" stroke-width="0.8"/>
<path d="M321.31 246.25 A57.6 57.6 0 0 1 346.19 239.73" fill="none" stroke="#999" stroke-width="0.5"/>
<path d="M322.15 247.85 A55.8 55.8 0 0 1 346.25 241.53" fill="none" stroke="#cfcfcf" stroke-width="0.4"/>
<path d="M347.8 242.1 A55.2 55.2 0 0 1 348.57 242.1 L348.5 248.6 A48.7 48.7 0 0 0 347.83 248.6 Z" fill="#fcd9c0"/>
<path d="M348.99 242.11 A55.2 55.2 0 0 1 349.61 242.12 L349.42 248.62 A48.7 48.7 0 0 0 348.87 248.61 Z" fill="#fbd3b6"/>
<path d="M349.77 242.13 A55.2 55.2 0 0 1 351.24 242.2 L350.86 248.68 A48.7 48.7 0 0 0 349.56 248.62 Z" fill="#fcd9c0"/>
<path d="M351.57 242.22 A55.2 55.2 0 0 1 352.1 242.25 L351.62 248.73 A48.7 48.7 0 0 0 351.15 248.7 Z" fill="#fbd3b6"/>
<path d="M352.46 242.28 A55.2 55.2 0 0 1 354.29 242.46 L353.55 248.92 A48.7 48.7 0 0 0 351.93 248.76 Z" fill="#fcdcc4"/>
<path d="M354.45 242.48 A55.2 55.2 0 0 1 355.38 242.6 L354.51 249.04 A48.7 48.7 0 0 0 353.69 248.93 Z" fill="#fbd3b6"/>
<path d="M355.62 242.63 A55.2 55.2 0 0 1 356.36 242.74 L355.38 249.16 A48.7 48.7 0 0 0 354.73 249.07 Z" fill="#fde1cc"/>
<path d="M356.69 242.79 A55.2 55.2 0 0 1 358.75 243.16 L357.49 249.53 A48.7 48.7 0 0 0 355.67 249.21 Z" fill="#fbd3b6"/>
<path d="M359.02 243.21 A55.2 55.2 0 0 1 360.73 243.59 L359.23 249.91 A48.7 48.7 0 0 0 357.72 249.58 Z" fill="#fcd9c0"/>
<path d="M361.08 243.67 A55.2 55.2 0 0 1 362.65 244.08 L360.93 250.35 A48.7 48.7 0 0 0 359.54 249.99 Z" fill="#fde1cc"/>
<path d="M362.94 244.16 A55.2 55.2 0 0 1 365.52 244.96 L363.46 251.12 A48.7 48.7 0 0 0 361.18 250.42 Z" fill="#fbd3b6"/>
<path d="M365.91 245.09 A55.2 55.2 0 0 1 367.92 245.82 L365.57 251.88 A48.7 48.7 0 0 0 363.8 251.24 Z" fill="#fde1cc"/>
<path d="M368.22 245.94 A55.2 55.2 0 0 1 370.6 246.94 L367.93 252.87 A48.7 48.7 0 0 0 365.84 251.98 Z" fill="#fde1cc"/>
<path d="M370.91 247.08 A55.2 55.2 0 0 1 371.43 247.32 L368.67 253.2 A48.7 48.7 0 0 0 368.22 252.99 Z" fill="#fbd3b6"/>
<path d="M371.79 247.49 A55.2 55.2 0 0 1 372.48 247.83 L369.6 253.65 A48.7 48.7 0 0 0 368.99 253.36 Z" fill="#fcd9c0"/>
<path d="M372.9 248.04 A55.2 55.2 0 0 1 373.42 248.3 L370.42 254.07 A48.7 48.7 0 0 0 369.97 253.84 Z" fill="#fde1cc"/>
<path d="M373.65 248.42 A55.2 55.2 0 0 1 374.76 249.02 L371.61 254.7 A48.7 48.7 0 0 0 370.63 254.18 Z" fill="#fcdcc4"/>
<path d="M374.9 249.1 A55.2 55.2 0 0 1 375.44 249.41 L372.21 255.05 A48.7 48.7 0 0 0 371.74 254.78 Z" fill="#fcd9c0"/>
<path d="M375.59 249.49 A55.2 55.2 0 0 1 377.42 250.59 L373.96 256.09 A48.7 48.7 0 0 0 372.34 255.12 Z" fill="#fcdcc4"/>
<path d="M377.62 250.72 A55.2 55.2 0 0 1 378.76 251.46 L375.13 256.86 A48.7 48.7 0 0 0 374.14 256.21 Z" fill="#fcd9c0"/>
<path d="M379.14 251.72 A55.2 55.2 0 0 1 380.18 252.45 L376.39 257.73 A48.7 48.7 0 0 0 375.47 257.09 Z" fill="#fcdcc4"/>
<path d="M380.32 252.55 A55.2 55.2 0 0 1 382.16 253.94 L378.14 259.05 A48.7 48.7 0 0 0 376.51 257.82 Z" fill="#fbd3b6"/>
<path d="M382.38 254.11 A55.2 55.2 0 0 1 384.44 255.83 L380.15 260.72 A48.7 48.7 0 0 0 378.33 259.2 Z" fill="#fbd3b6"/>
<path d="M384.66 256.03 A55.2 55.2 0 0 1 385.96 257.22 L381.49 261.94 A48.7 48.7 0 0 0 380.34 260.89 Z" fill="#fcdcc4"/>
<path d="M386.27 257.52 A55.2 55.2 0 0 1 386.76 258 L382.19 262.62 A48.7 48.7 0 0 0 381.76 262.2 Z" fill="#fde1cc"/>
<path d="M347.88 249.9 A47.4 47.4 0 0 1 348.49 249.9 L348.43 256 A41.3 41.3 0 0 0 347.89 256 Z" fill="#f3e3d6"/>
<path d="M348.77 249.91 A47.4 47.4 0 0 1 349.38 249.92 L349.21 256.02 A41.3 41.3 0 0 0 348.67 256.01 Z" fill="#e8ebe0"/>
<path d="M349.64 249.93 A47.4 47.4 0 0 1 350.33 249.96 L350.03 256.05 A41.3 41.3 0 0 0 349.43 256.02 Z" fill="#f4e6d8"/>
<path d="M352.32 250.1 A47.4 47.4 0 0 1 353.37 250.21 L352.68 256.27 A41.3 41.3 0 0 0 351.76 256.17 Z" fill="#ebe7dc"/>
<path d="M355.86 250.56 A47.4 47.4 0 0 1 356.97 250.76 L355.82 256.75 A41.3 41.3 0 0 0 354.85 256.57 Z" fill="#ede1e9"/>
<path d="M357.18 250.8 A47.4 47.4 0 0 1 358.4 251.06 L357.06 257.01 A41.3 41.3 0 0 0 356 256.78 Z" fill="#e3ebe2"/>
<path d="M359.04 251.2 A47.4 47.4 0 0 1 359.95 251.43 L358.41 257.33 A41.3 41.3 0 0 0 357.62 257.14 Z" fill="#e8ebe0"/>
<path d="M360.14 251.48 A47.4 47.4 0 0 1 360.38 251.54 L358.78 257.43 A41.3 41.3 0 0 0 358.58 257.38 Z" fill="#e3ebe2"/>
<path d="M360.99 251.71 A47.4 47.4 0 0 1 362.15 252.06 L360.33 257.88 A41.3 41.3 0 0 0 359.32 257.58 Z" fill="#e6e5ec"/>
<path d="M362.6 252.2 A47.4 47.4 0 0 1 363.06 252.36 L361.12 258.14 A41.3 41.3 0 0 0 360.72 258.01 Z" fill="#e5efea"/>
<path d="M363.5 252.51 A47.4 47.4 0 0 1 364.43 252.84 L362.32 258.56 A41.3 41.3 0 0 0 361.5 258.27 Z" fill="#f6e2d2"/>
<path d="M365.05 253.07 A47.4 47.4 0 0 1 365.96 253.43 L363.65 259.08 A41.3 41.3 0 0 0 362.85 258.76 Z" fill="#e3ebe2"/>
<path d="M366.18 253.52 A47.4 47.4 0 0 1 367.49 254.09 L364.98 259.65 A41.3 41.3 0 0 0 363.84 259.16 Z" fill="#f6e2d2"/>
<path d="M368.01 254.33 A47.4 47.4 0 0 1 368.47 254.55 L365.83 260.05 A41.3 41.3 0 0 0 365.44 259.86 Z" fill="#f4e6d8"/>
<path d="M370.45 255.55 A47.4 47.4 0 0 1 371.07 255.9 L368.1 261.22 A41.3 41.3 0 0 0 367.56 260.92 Z" fill="#e3ebe2"/>
<path d="M371.52 256.15 A47.4 47.4 0 0 1 372.09 256.48 L368.99 261.73 A41.3 41.3 0 0 0 368.49 261.44 Z" fill="#f3e3d6"/>
<path d="M372.38 256.65 A47.4 47.4 0 0 1 372.89 256.96 L369.69 262.15 A41.3 41.3 0 0 0 369.25 261.88 Z" fill="#f4e6d8"/>
<path d="M376 259.05 A47.4 47.4 0 0 1 377.12 259.9 L373.38 264.72 A41.3 41.3 0 0 0 372.39 263.97 Z" fill="#f4e6d8"/>
<path d="M378.95 261.4 A47.4 47.4 0 0 1 379.7 262.06 L375.62 266.59 A41.3 41.3 0 0 0 374.97 266.02 Z" fill="#e8ebe0"/>
<path d="M387.63 258.88 A55.2 55.2 0 0 1 388.52 259.82 L383.75 264.23 A48.7 48.7 0 0 0 382.96 263.4 Z" fill="#fbd3b6"/>
<path d="M388.73 260.04 A55.2 55.2 0 0 1 389.55 260.96 L384.66 265.24 A48.7 48.7 0 0 0 383.93 264.43 Z" fill="#fcd9c0"/>
<path d="M389.75 261.19 A55.2 55.2 0 0 1 391.05 262.74 L385.98 266.81 A48.7 48.7 0 0 0 384.84 265.44 Z" fill="#fcd9c0"/>
<path d="M391.31 263.08 A55.2 55.2 0 0 1 391.73 263.62 L386.58 267.58 A48.7 48.7 0 0 0 386.21 267.11 Z" fill="#fbd3b6"/>
<path d="M391.92 263.86 A55.2 55.2 0 0 1 392.42 264.53 L387.19 268.39 A48.7 48.7 0 0 0 386.75 267.8 Z" fill="#fde1cc"/>
<path d="M392.52 264.67 A55.2 55.2 0 0 1 394.09 266.93 L388.67 270.5 A48.7 48.7 0 0 0 387.28 268.51 Z" fill="#fcdcc4"/>
<path d="M394.25 267.16 A55.2 55.2 0 0 1 395.69 269.51 L390.08 272.78 A48.7 48.7 0 0 0 388.8 270.71 Z" fill="#fbd3b6"/>
<path d="M395.93 269.92 A55.2 55.2 0 0 1 396.16 270.32 L390.49 273.5 A48.7 48.7 0 0 0 390.29 273.15 Z" fill="#fcdcc4"/>
<path d="M396.36 270.68 A55.2 55.2 0 0 1 396.72 271.34 L390.98 274.4 A48.7 48.7 0 0 0 390.66 273.82 Z" fill="#fcdcc4"/>
<path d="M396.89 271.67 A55.2 55.2 0 0 1 397.46 272.79 L391.64 275.68 A48.7 48.7 0 0 0 391.13 274.69 Z" fill="#fbd3b6"/>
<path d="M397.53 272.93 A55.2 55.2 0 0 1 398.54 275.09 L392.59 277.71 A48.7 48.7 0 0 0 391.7 275.8 Z" fill="#fcd9c0"/>
<path d="M398.67 275.39 A55.2 55.2 0 0 1 399.68 277.92 L393.6 280.2 A48.7 48.7 0 0 0 392.7 277.97 Z" fill="#fbd3b6"/>
<path d="M399.83 278.31 A55.2 55.2 0 0 1 400.14 279.17 L394 281.31 A48.7 48.7 0 0 0 393.73 280.55 Z" fill="#fde1cc"/>
<path d="M400.24 279.47 A55.2 55.2 0 0 1 400.94 281.66 L394.7 283.5 A48.7 48.7 0 0 0 394.09 281.57 Z" fill="#fcdcc4"/>
<path d="M401.06 282.07 A55.2 55.2 0 0 1 401.2 282.59 L394.94 284.32 A48.7 48.7 0 0 0 394.81 283.86 Z" fill="#fcdcc4"/>
<path d="M401.3 282.94 A55.2 55.2 0 0 1 401.88 285.3 L395.53 286.71 A48.7 48.7 0 0 0 395.02 284.63 Z" fill="#fbd3b6"/>
<path d="M401.95 285.61 A55.2 55.2 0 0 1 402.28 287.28 L395.89 288.46 A48.7 48.7 0 0 0 395.6 286.99 Z" fill="#fcdcc4"/>
<path d="M402.35 287.68 A55.2 55.2 0 0 1 402.66 289.56 L396.22 290.47 A48.7 48.7 0 0 0 395.95 288.81 Z" fill="#fbd3b6"/>
<path d="M402.68 289.76 A55.2 55.2 0 0 1 402.88 291.32 L396.41 292.03 A48.7 48.7 0 0 0 396.24 290.65 Z" fill="#fcd9c0"/>
<path d="M402.9 291.58 A55.2 55.2 0 0 1 403.05 293.25 L396.57 293.73 A48.7 48.7 0 0 0 396.44 292.25 Z" fill="#fcd9c0"/>
<path d="M403.08 293.69 A55.2 55.2 0 0 1 403.11 294.22 L396.62 294.58 A48.7 48.7 0 0 0 396.6 294.12 Z" fill="#fcd9c0"/>
<path d="M403.14 294.63 A55.2 55.2 0 0 1 403.19 296.28 L396.69 296.4 A48.7 48.7 0 0 0 396.64 294.94 Z" fill="#fcd9c0"/>
<path d="M403.2 296.58 A55.2 55.2 0 0 1 403.2 297.49 L396.7 297.47 A48.7 48.7 0 0 0 396.7 296.66 Z" fill="#fbd3b6"/>
<path d="M381.97 264.24 A47.4 47.4 0 0 1 382.72 265.03 L378.25 269.18 A41.3 41.3 0 0 0 377.6 268.5 Z" fill="#e6e5ec"/>
<path d="M385.4 268.18 A47.4 47.4 0 0 1 385.69 268.55 L380.84 272.25 A41.3 41.3 0 0 0 380.59 271.93 Z" fill="#f6e2d2"/>
<path d="M385.88 268.81 A47.4 47.4 0 0 1 386.65 269.86 L381.68 273.39 A41.3 41.3 0 0 0 381.01 272.48 Z" fill="#e6e5ec"/>
<path d="M387.89 271.7 A47.4 47.4 0 0 1 388.62 272.87 L383.39 276.01 A41.3 41.3 0 0 0 382.76 274.99 Z" fill="#f3e3d6"/>
<path d="M388.77 273.12 A47.4 47.4 0 0 1 389 273.52 L383.73 276.58 A41.3 41.3 0 0 0 383.52 276.23 Z" fill="#e3ebe2"/>
<path d="M389.95 275.23 A47.4 47.4 0 0 1 390.18 275.67 L384.75 278.46 A41.3 41.3 0 0 0 384.55 278.07 Z" fill="#f4e6d8"/>
<path d="M390.34 276 A47.4 47.4 0 0 1 390.75 276.82 L385.25 279.45 A41.3 41.3 0 0 0 384.9 278.74 Z" fill="#e3ebe2"/>
<path d="M390.97 277.29 A47.4 47.4 0 0 1 391.09 277.54 L385.54 280.09 A41.3 41.3 0 0 0 385.44 279.87 Z" fill="#f6e2d2"/>
<path d="M391.3 278.01 A47.4 47.4 0 0 1 391.64 278.8 L386.02 281.18 A41.3 41.3 0 0 0 385.73 280.5 Z" fill="#f2eed8"/>
<path d="M392.14 280.02 A47.4 47.4 0 0 1 392.76 281.69 L387 283.7 A41.3 41.3 0 0 0 386.46 282.25 Z" fill="#f2eed8"/>
<path d="M392.85 281.97 A47.4 47.4 0 0 1 393.37 283.56 L387.53 285.33 A41.3 41.3 0 0 0 387.08 283.94 Z" fill="#f3e3d6"/>
<path d="M393.53 284.11 A47.4 47.4 0 0 1 393.94 285.64 L388.03 287.14 A41.3 41.3 0 0 0 387.67 285.81 Z" fill="#f2eed8"/>
<path d="M394.03 286 A47.4 47.4 0 0 1 394.28 287.06 L388.32 288.38 A41.3 41.3 0 0 0 388.11 287.45 Z" fill="#f6e2d2"/>
<path d="M394.39 287.56 A47.4 47.4 0 0 1 394.47 287.94 L388.49 289.15 A41.3 41.3 0 0 0 388.42 288.81 Z" fill="#f3e3d6"/>
<path d="M394.69 289.14 A47.4 47.4 0 0 1 394.93 290.63 L388.89 291.49 A41.3 41.3 0 0 0 388.68 290.19 Z" fill="#e6e5ec"/>
<path d="M394.96 290.83 A47.4 47.4 0 0 1 395.15 292.42 L389.08 293.05 A41.3 41.3 0 0 0 388.91 291.66 Z" fill="#e5efea"/>
<path d="M395.31 294.45 A47.4 47.4 0 0 1 395.33 294.77 L389.24 295.09 A41.3 41.3 0 0 0 389.23 294.82 Z" fill="#e3ebe2"/>
<path d="M395.36 295.41 A47.4 47.4 0 0 1 395.38 296.07 L389.29 296.23 A41.3 41.3 0 0 0 389.27 295.65 Z" fill="#f2eed8"/>
<path d="M395.39 296.55 A47.4 47.4 0 0 1 395.4 297.47 L389.3 297.44 A41.3 41.3 0 0 0 389.29 296.64 Z" fill="#f6e2d2"/>
<path d="M403.19 298.51 A55.2 55.2 0 0 1 403.15 299.76 L396.65 299.47 A48.7 48.7 0 0 0 396.69 298.37 Z" fill="#fde1cc"/>
<path d="M403.14 299.92 A55.2 55.2 0 0 1 403.12 300.35 L396.63 299.99 A48.7 48.7 0 0 0 396.65 299.61 Z" fill="#fbd3b6"/>
<path d="M403.1 300.67 A55.2 55.2 0 0 1 403.03 301.66 L396.55 301.15 A48.7 48.7 0 0 0 396.61 300.27 Z" fill="#fcdcc4"/>
<path d="M403 302.03 A55.2 55.2 0 0 1 402.82 303.77 L396.36 303.01 A48.7 48.7 0 0 0 396.52 301.47 Z" fill="#fde1cc"/>
<path d="M402.77 304.15 A55.2 55.2 0 0 1 402.35 306.96 L395.95 305.82 A48.7 48.7 0 0 0 396.32 303.34 Z" fill="#fbd3b6"/>
<path d="M402.3 307.24 A55.2 55.2 0 0 1 402.06 308.47 L395.69 307.15 A48.7 48.7 0 0 0 395.9 306.07 Z" fill="#fbd3b6"/>
<path d="M402.03 308.62 A55.2 55.2 0 0 1 401.59 310.52 L395.28 308.96 A48.7 48.7 0 0 0 395.67 307.28 Z" fill="#fcdcc4"/>
<path d="M401.55 310.71 A55.2 55.2 0 0 1 401.4 311.29 L395.11 309.64 A48.7 48.7 0 0 0 395.24 309.13 Z" fill="#fde1cc"/>
<path d="M401.31 311.63 A55.2 55.2 0 0 1 400.72 313.66 L394.51 311.74 A48.7 48.7 0 0 0 395.03 309.94 Z" fill="#fbd3b6"/>
<path d="M400.66 313.85 A55.2 55.2 0 0 1 400.19 315.28 L394.04 313.16 A48.7 48.7 0 0 0 394.46 311.9 Z" fill="#fde1cc"/>
<path d="M400.03 315.72 A55.2 55.2 0 0 1 399.42 317.37 L393.37 315.01 A48.7 48.7 0 0 0 393.91 313.55 Z" fill="#fde1cc"/>
<path d="M399.34 317.57 A55.2 55.2 0 0 1 399.03 318.35 L393.02 315.88 A48.7 48.7 0 0 0 393.3 315.19 Z" fill="#fcd9c0"/>
<path d="M398.91 318.64 A55.2 55.2 0 0 1 398.25 320.14 L392.33 317.45 A48.7 48.7 0 0 0 392.92 316.12 Z" fill="#fcd9c0"/>
<path d="M398.18 320.3 A55.2 55.2 0 0 1 397.12 322.49 L391.33 319.52 A48.7 48.7 0 0 0 392.27 317.59 Z" fill="#fcd9c0"/>
<path d="M396.99 322.74 A55.2 55.2 0 0 1 396.46 323.74 L390.75 320.63 A48.7 48.7 0 0 0 391.22 319.74 Z" fill="#fcd9c0"/>
<path d="M396.29 324.04 A55.2 55.2 0 0 1 395.44 325.52 L389.85 322.2 A48.7 48.7 0 0 0 390.6 320.89 Z" fill="#fcdcc4"/>
<path d="M395.23 325.87 A55.2 55.2 0 0 1 394.06 327.72 L388.64 324.14 A48.7 48.7 0 0 0 389.67 322.5 Z" fill="#fde1cc"/>
<path d="M393.85 328.04 A55.2 55.2 0 0 1 392.7 329.68 L387.44 325.87 A48.7 48.7 0 0 0 388.45 324.42 Z" fill="#fcdcc4"/>
<path d="M392.47 330 A55.2 55.2 0 0 1 391 331.91 L385.94 327.84 A48.7 48.7 0 0 0 387.24 326.15 Z" fill="#fcd9c0"/>
<path d="M390.73 332.24 A55.2 55.2 0 0 1 389.54 333.65 L384.65 329.37 A48.7 48.7 0 0 0 385.7 328.13 Z" fill="#fbd3b6"/>
<path d="M389.42 333.78 A55.2 55.2 0 0 1 389.15 334.09 L384.3 329.76 A48.7 48.7 0 0 0 384.55 329.49 Z" fill="#fcd9c0"/>
<path d="M395.39 298.44 A47.4 47.4 0 0 1 395.38 298.77 L389.28 298.58 A41.3 41.3 0 0 0 389.29 298.3 Z" fill="#f4e6d8"/>
<path d="M395.36 299.27 A47.4 47.4 0 0 1 395.31 300.29 L389.22 299.9 A41.3 41.3 0 0 0 389.26 299.02 Z" fill="#e3ebe2"/>
<path d="M395.27 300.82 A47.4 47.4 0 0 1 395.18 301.86 L389.11 301.27 A41.3 41.3 0 0 0 389.19 300.37 Z" fill="#f4e6d8"/>
<path d="M395.16 302.06 A47.4 47.4 0 0 1 395 303.45 L388.95 302.66 A41.3 41.3 0 0 0 389.09 301.44 Z" fill="#e3ebe2"/>
<path d="M394.92 304.03 A47.4 47.4 0 0 1 394.83 304.64 L388.8 303.7 A41.3 41.3 0 0 0 388.88 303.17 Z" fill="#e6e5ec"/>
<path d="M394.74 305.17 A47.4 47.4 0 0 1 394.41 306.92 L388.44 305.68 A41.3 41.3 0 0 0 388.73 304.16 Z" fill="#ede1e9"/>
<path d="M394.37 307.12 A47.4 47.4 0 0 1 393.99 308.76 L388.08 307.28 A41.3 41.3 0 0 0 388.4 305.86 Z" fill="#ebe7dc"/>
<path d="M393.88 309.21 A47.4 47.4 0 0 1 393.55 310.43 L387.68 308.74 A41.3 41.3 0 0 0 387.97 307.68 Z" fill="#f3e3d6"/>
<path d="M393.45 310.74 A47.4 47.4 0 0 1 393.08 311.96 L387.28 310.07 A41.3 41.3 0 0 0 387.6 309.01 Z" fill="#e8ebe0"/>
<path d="M392.94 312.38 A47.4 47.4 0 0 1 392.85 312.64 L387.08 310.66 A41.3 41.3 0 0 0 387.15 310.44 Z" fill="#f2eed8"/>
<path d="M392.64 313.25 A47.4 47.4 0 0 1 392.5 313.63 L386.77 311.53 A41.3 41.3 0 0 0 386.89 311.2 Z" fill="#f6e2d2"/>
<path d="M392.39 313.92 A47.4 47.4 0 0 1 392.01 314.91 L386.34 312.64 A41.3 41.3 0 0 0 386.68 311.78 Z" fill="#f6e2d2"/>
<path d="M391.8 315.41 A47.4 47.4 0 0 1 391.08 317.07 L385.53 314.53 A41.3 41.3 0 0 0 386.16 313.08 Z" fill="#f2eed8"/>
<path d="M390.8 317.66 A47.4 47.4 0 0 1 390.04 319.2 L384.63 316.38 A41.3 41.3 0 0 0 385.29 315.04 Z" fill="#f6e2d2"/>
<path d="M388.36 322.15 A47.4 47.4 0 0 1 388.17 322.46 L383 319.22 A41.3 41.3 0 0 0 383.17 318.95 Z" fill="#f4e6d8"/>
<path d="M388.01 322.71 A47.4 47.4 0 0 1 387.57 323.39 L382.48 320.04 A41.3 41.3 0 0 0 382.86 319.44 Z" fill="#f4e6d8"/>
<path d="M387.4 323.65 A47.4 47.4 0 0 1 387.16 324 L382.12 320.56 A41.3 41.3 0 0 0 382.33 320.26 Z" fill="#f6e2d2"/>
<path d="M386.82 324.5 A47.4 47.4 0 0 1 386.23 325.33 L381.31 321.72 A41.3 41.3 0 0 0 381.82 321 Z" fill="#ebe7dc"/>
<path d="M385.85 325.84 A47.4 47.4 0 0 1 385.04 326.88 L380.27 323.07 A41.3 41.3 0 0 0 380.98 322.16 Z" fill="#f3e3d6"/>
<path d="M384.81 327.17 A47.4 47.4 0 0 1 384.27 327.82 L379.6 323.89 A41.3 41.3 0 0 0 380.07 323.32 Z" fill="#e5efea"/>
<path d="M386.63 336.73 A55.2 55.2 0 0 1 385.68 337.64 L381.24 332.89 A48.7 48.7 0 0 0 382.08 332.08 Z" fill="#fcd9c0"/>
<path d="M385.49 337.82 A55.2 55.2 0 0 1 384.4 338.8 L380.12 333.91 A48.7 48.7 0 0 0 381.07 333.05 Z" fill="#fcd9c0"/>
<path d="M384.22 338.95 A55.2 55.2 0 0 1 383.83 339.29 L379.61 334.34 A48.7 48.7 0 0 0 379.96 334.05 Z" fill="#fbd3b6"/>
<path d="M383.66 339.44 A55.2 55.2 0 0 1 382.85 340.11 L378.75 335.07 A48.7 48.7 0 0 0 379.46 334.47 Z" fill="#fbd3b6"/>
<path d="M382.53 340.36 A55.2 55.2 0 0 1 380.67 341.79 L376.82 336.56 A48.7 48.7 0 0 0 378.47 335.29 Z" fill="#fcd9c0"/>
<path d="M378.33 343.42 A55.2 55.2 0 0 1 376.85 344.36 L373.45 338.82 A48.7 48.7 0 0 0 374.76 337.99 Z" fill="#fcd9c0"/>
<path d="M376.45 344.6 A55.2 55.2 0 0 1 375.23 345.31 L372.03 339.66 A48.7 48.7 0 0 0 373.1 339.03 Z" fill="#fbd3b6"/>
<path d="M374.92 345.49 A55.2 55.2 0 0 1 373.95 346.02 L370.89 340.28 A48.7 48.7 0 0 0 371.75 339.82 Z" fill="#fbd3b6"/>
<path d="M373.77 346.11 A55.2 55.2 0 0 1 372.5 346.76 L369.62 340.94 A48.7 48.7 0 0 0 370.74 340.37 Z" fill="#fde1cc"/>
<path d="M372.15 346.94 A55.2 55.2 0 0 1 369.57 348.11 L367.03 342.13 A48.7 48.7 0 0 0 369.31 341.09 Z" fill="#fbd3b6"/>
<path d="M369.35 348.21 A55.2 55.2 0 0 1 367.69 348.87 L365.37 342.8 A48.7 48.7 0 0 0 366.83 342.21 Z" fill="#fbd3b6"/>
<path d="M367.35 349 A55.2 55.2 0 0 1 366.82 349.19 L364.6 343.08 A48.7 48.7 0 0 0 365.08 342.91 Z" fill="#fcdcc4"/>
<path d="M366.51 349.31 A55.2 55.2 0 0 1 365.07 349.8 L363.06 343.61 A48.7 48.7 0 0 0 364.33 343.18 Z" fill="#fcdcc4"/>
<path d="M364.79 349.88 A55.2 55.2 0 0 1 363.11 350.39 L361.33 344.14 A48.7 48.7 0 0 0 362.81 343.69 Z" fill="#fbd3b6"/>
<path d="M362.86 350.46 A55.2 55.2 0 0 1 362.27 350.62 L360.59 344.35 A48.7 48.7 0 0 0 361.11 344.2 Z" fill="#fde1cc"/>
<path d="M361.86 350.73 A55.2 55.2 0 0 1 361 350.95 L359.47 344.63 A48.7 48.7 0 0 0 360.23 344.44 Z" fill="#fcdcc4"/>
<path d="M360.73 351.01 A55.2 55.2 0 0 1 358.53 351.49 L357.29 345.11 A48.7 48.7 0 0 0 359.23 344.69 Z" fill="#fde1cc"/>
<path d="M358.28 351.53 A55.2 55.2 0 0 1 357.74 351.63 L356.6 345.24 A48.7 48.7 0 0 0 357.07 345.15 Z" fill="#fde1cc"/>
<path d="M357.56 351.67 A55.2 55.2 0 0 1 355.94 351.93 L355 345.49 A48.7 48.7 0 0 0 356.43 345.26 Z" fill="#fbd3b6"/>
<path d="M355.76 351.95 A55.2 55.2 0 0 1 354.34 352.13 L353.6 345.68 A48.7 48.7 0 0 0 354.85 345.52 Z" fill="#fcdcc4"/>
<path d="M381.49 330.85 A47.4 47.4 0 0 1 380.83 331.49 L376.61 327.09 A41.3 41.3 0 0 0 377.18 326.53 Z" fill="#f6e2d2"/>
<path d="M380.36 331.93 A47.4 47.4 0 0 1 379.61 332.62 L375.55 328.07 A41.3 41.3 0 0 0 376.2 327.47 Z" fill="#f4e6d8"/>
<path d="M379.17 333.01 A47.4 47.4 0 0 1 377.81 334.15 L373.97 329.41 A41.3 41.3 0 0 0 375.16 328.41 Z" fill="#e3ebe2"/>
<path d="M377.04 334.76 A47.4 47.4 0 0 1 375.8 335.69 L372.23 330.75 A41.3 41.3 0 0 0 373.3 329.94 Z" fill="#f6e2d2"/>
<path d="M375.64 335.81 A47.4 47.4 0 0 1 374.43 336.65 L371.03 331.58 A41.3 41.3 0 0 0 372.08 330.85 Z" fill="#f3e3d6"/>
<path d="M374.2 336.8 A47.4 47.4 0 0 1 372.77 337.72 L369.58 332.51 A41.3 41.3 0 0 0 370.82 331.72 Z" fill="#f2eed8"/>
<path d="M372.22 338.05 A47.4 47.4 0 0 1 371.15 338.66 L368.17 333.34 A41.3 41.3 0 0 0 369.1 332.8 Z" fill="#ede1e9"/>
<path d="M370.7 338.91 A47.4 47.4 0 0 1 370.33 339.11 L367.45 333.73 A41.3 41.3 0 0 0 367.78 333.56 Z" fill="#f4e6d8"/>
<path d="M369.77 339.41 A47.4 47.4 0 0 1 369.28 339.66 L366.54 334.21 A41.3 41.3 0 0 0 366.96 333.99 Z" fill="#e8ebe0"/>
<path d="M366.93 340.76 A47.4 47.4 0 0 1 365.94 341.18 L363.63 335.53 A41.3 41.3 0 0 0 364.49 335.16 Z" fill="#ebe7dc"/>
<path d="M365.34 341.41 A47.4 47.4 0 0 1 364.07 341.89 L362 336.15 A41.3 41.3 0 0 0 363.11 335.74 Z" fill="#ebe7dc"/>
<path d="M363.82 341.98 A47.4 47.4 0 0 1 362.27 342.5 L360.43 336.68 A41.3 41.3 0 0 0 361.79 336.23 Z" fill="#e3ebe2"/>
<path d="M360.48 343.03 A47.4 47.4 0 0 1 360.19 343.11 L358.62 337.21 A41.3 41.3 0 0 0 358.87 337.14 Z" fill="#ede1e9"/>
<path d="M359.85 343.19 A47.4 47.4 0 0 1 359.01 343.4 L357.59 337.47 A41.3 41.3 0 0 0 358.33 337.29 Z" fill="#f2eed8"/>
<path d="M358.49 343.52 A47.4 47.4 0 0 1 357.47 343.74 L356.25 337.77 A41.3 41.3 0 0 0 357.14 337.58 Z" fill="#e6e5ec"/>
<path d="M357.16 343.81 A47.4 47.4 0 0 1 355.64 344.08 L354.66 338.06 A41.3 41.3 0 0 0 355.98 337.82 Z" fill="#e6e5ec"/>
<path d="M355.35 344.13 A47.4 47.4 0 0 1 353.72 344.35 L352.98 338.3 A41.3 41.3 0 0 0 354.4 338.1 Z" fill="#e8ebe0"/>
<path d="M353.33 352.24 A55.2 55.2 0 0 1 352.39 352.33 L351.87 345.85 A48.7 48.7 0 0 0 352.7 345.77 Z" fill="#fcd9c0"/>
<path d="M351.93 352.36 A55.2 55.2 0 0 1 351.18 352.41 L350.8 345.92 A48.7 48.7 0 0 0 351.47 345.88 Z" fill="#fbd3b6"/>
<path d="M351.03 352.42 A55.2 55.2 0 0 1 349.15 352.49 L349.01 345.99 A48.7 48.7 0 0 0 350.67 345.93 Z" fill="#fcd9c0"/>
<path d="M348.94 352.49 A55.2 55.2 0 0 1 347.43 352.5 L347.5 346 A48.7 48.7 0 0 0 348.83 345.99 Z" fill="#fde1cc"/>
<path d="M342.66 352.24 A55.2 55.2 0 0 1 342.2 352.19 L342.88 345.73 A48.7 48.7 0 0 0 343.29 345.77 Z" fill="#fcdcc4"/>
<path d="M341.77 352.15 A55.2 55.2 0 0 1 338.95 351.75 L340.01 345.34 A48.7 48.7 0 0 0 342.51 345.69 Z" fill="#fcd9c0"/>
<path d="M338.81 351.73 A55.2 55.2 0 0 1 337.74 351.54 L338.94 345.15 A48.7 48.7 0 0 0 339.89 345.32 Z" fill="#fcd9c0"/>
<path d="M337.41 351.47 A55.2 55.2 0 0 1 335.17 350.99 L336.68 344.67 A48.7 48.7 0 0 0 338.66 345.1 Z" fill="#fde1cc"/>
<path d="M334.76 350.89 A55.2 55.2 0 0 1 333.34 350.52 L335.07 344.25 A48.7 48.7 0 0 0 336.32 344.58 Z" fill="#fcdcc4"/>
<path d="M333.14 350.46 A55.2 55.2 0 0 1 331.47 349.97 L333.42 343.77 A48.7 48.7 0 0 0 334.89 344.2 Z" fill="#fde1cc"/>
<path d="M331.22 349.89 A55.2 55.2 0 0 1 328.73 349.03 L331 342.94 A48.7 48.7 0 0 0 333.19 343.69 Z" fill="#fcdcc4"/>
<path d="M328.51 348.95 A55.2 55.2 0 0 1 326.7 348.23 L329.21 342.23 A48.7 48.7 0 0 0 330.81 342.87 Z" fill="#fcdcc4"/>
<path d="M325.85 347.86 A55.2 55.2 0 0 1 323.8 346.91 L326.65 341.07 A48.7 48.7 0 0 0 328.46 341.91 Z" fill="#fde1cc"/>
<path d="M322.33 346.17 A55.2 55.2 0 0 1 321.83 345.9 L324.91 340.18 A48.7 48.7 0 0 0 325.35 340.41 Z" fill="#fde1cc"/>
<path d="M350 344.66 A47.4 47.4 0 0 1 348.63 344.7 L348.55 338.6 A41.3 41.3 0 0 0 349.75 338.56 Z" fill="#ede1e9"/>
<path d="M346.16 344.66 A47.4 47.4 0 0 1 345.13 344.61 L345.5 338.52 A41.3 41.3 0 0 0 346.4 338.57 Z" fill="#f2eed8"/>
<path d="M344.56 344.57 A47.4 47.4 0 0 1 343.1 344.45 L343.73 338.38 A41.3 41.3 0 0 0 345 338.49 Z" fill="#e5efea"/>
<path d="M342.51 344.38 A47.4 47.4 0 0 1 341.55 344.26 L342.38 338.22 A41.3 41.3 0 0 0 343.22 338.32 Z" fill="#e8ebe0"/>
<path d="M341.35 344.23 A47.4 47.4 0 0 1 340.79 344.15 L341.72 338.12 A41.3 41.3 0 0 0 342.2 338.19 Z" fill="#e6e5ec"/>
<path d="M340.43 344.09 A47.4 47.4 0 0 1 339.18 343.87 L340.31 337.88 A41.3 41.3 0 0 0 341.4 338.07 Z" fill="#f4e6d8"/>
<path d="M336.47 343.28 A47.4 47.4 0 0 1 335.83 343.11 L337.4 337.22 A41.3 41.3 0 0 0 337.96 337.36 Z" fill="#e3ebe2"/>
<path d="M333.5 342.43 A47.4 47.4 0 0 1 333.07 342.29 L334.99 336.5 A41.3 41.3 0 0 0 335.37 336.62 Z" fill="#e6e5ec"/>
<path d="M332.56 342.11 A47.4 47.4 0 0 1 331.07 341.57 L333.25 335.88 A41.3 41.3 0 0 0 334.54 336.35 Z" fill="#e3ebe2"/>
<path d="M330.56 341.37 A47.4 47.4 0 0 1 329.9 341.11 L332.23 335.47 A41.3 41.3 0 0 0 332.8 335.7 Z" fill="#f2eed8"/>
<path d="M329.58 340.97 A47.4 47.4 0 0 1 328.29 340.41 L330.82 334.86 A41.3 41.3 0 0 0 331.95 335.35 Z" fill="#e6e5ec"/>
<path d="M328.05 340.3 A47.4 47.4 0 0 1 327.49 340.03 L330.13 334.53 A41.3 41.3 0 0 0 330.62 334.76 Z" fill="#e8ebe0"/>
<path d="M327.26 339.92 A47.4 47.4 0 0 1 326.95 339.77 L329.66 334.3 A41.3 41.3 0 0 0 329.93 334.44 Z" fill="#e6e5ec"/>
<path d="M320.74 345.3 A55.2 55.2 0 0 1 320.18 344.98 L323.46 339.36 A48.7 48.7 0 0 0 323.95 339.65 Z" fill="#fbd3b6"/>
<path d="M319.81 344.76 A55.2 55.2 0 0 1 317.55 343.34 L321.13 337.92 A48.7 48.7 0 0 0 323.13 339.17 Z" fill="#fde1cc"/>
<path d="M317.36 343.22 A55.2 55.2 0 0 1 316.94 342.93 L320.59 337.56 A48.7 48.7 0 0 0 320.97 337.81 Z" fill="#fbd3b6"/>
<path d="M316.56 342.67 A55.2 55.2 0 0 1 315.48 341.91 L319.31 336.65 A48.7 48.7 0 0 0 320.26 337.33 Z" fill="#fcdcc4"/>
<path d="M315.2 341.7 A55.2 55.2 0 0 1 313.36 340.28 L317.44 335.22 A48.7 48.7 0 0 0 319.07 336.47 Z" fill="#fcd9c0"/>
<path d="M313.22 340.17 A55.2 55.2 0 0 1 311.78 338.96 L316.05 334.05 A48.7 48.7 0 0 0 317.32 335.12 Z" fill="#fbd3b6"/>
<path d="M311.66 338.85 A55.2 55.2 0 0 1 310.74 338.03 L315.13 333.23 A48.7 48.7 0 0 0 315.94 333.96 Z" fill="#fde1cc"/>
<path d="M308.73 336.09 A55.2 55.2 0 0 1 307.05 334.32 L311.88 329.96 A48.7 48.7 0 0 0 313.35 331.52 Z" fill="#fde1cc"/>
<path d="M306.92 334.17 A55.2 55.2 0 0 1 306.15 333.29 L311.07 329.05 A48.7 48.7 0 0 0 311.75 329.83 Z" fill="#fcdcc4"/>
<path d="M305.93 333.04 A55.2 55.2 0 0 1 305.58 332.62 L310.58 328.46 A48.7 48.7 0 0 0 310.89 328.83 Z" fill="#fcdcc4"/>
<path d="M305.35 332.34 A55.2 55.2 0 0 1 304.86 331.74 L309.94 327.68 A48.7 48.7 0 0 0 310.37 328.21 Z" fill="#fbd3b6"/>
<path d="M303.81 330.38 A55.2 55.2 0 0 1 302.97 329.23 L308.27 325.47 A48.7 48.7 0 0 0 309.02 326.49 Z" fill="#fde1cc"/>
<path d="M302.81 328.99 A55.2 55.2 0 0 1 302.56 328.64 L307.91 324.95 A48.7 48.7 0 0 0 308.13 325.26 Z" fill="#fde1cc"/>
<path d="M302.36 328.34 A55.2 55.2 0 0 1 301.6 327.2 L307.07 323.68 A48.7 48.7 0 0 0 307.73 324.69 Z" fill="#fcd9c0"/>
<path d="M301.45 326.96 A55.2 55.2 0 0 1 301.03 326.3 L306.56 322.89 A48.7 48.7 0 0 0 306.93 323.47 Z" fill="#fcd9c0"/>
<path d="M300.88 326.06 A55.2 55.2 0 0 1 299.63 323.89 L305.32 320.76 A48.7 48.7 0 0 0 306.43 322.67 Z" fill="#fbd3b6"/>
<path d="M322.63 337.34 A47.4 47.4 0 0 1 322.19 337.06 L325.51 331.94 A41.3 41.3 0 0 0 325.89 332.19 Z" fill="#f3e3d6"/>
<path d="M321.84 336.83 A47.4 47.4 0 0 1 320.44 335.86 L323.98 330.9 A41.3 41.3 0 0 0 325.21 331.74 Z" fill="#f6e2d2"/>
<path d="M318.56 334.45 A47.4 47.4 0 0 1 317.35 333.46 L321.29 328.8 A41.3 41.3 0 0 0 322.35 329.67 Z" fill="#f6e2d2"/>
<path d="M317.11 333.25 A47.4 47.4 0 0 1 316.2 332.45 L320.3 327.93 A41.3 41.3 0 0 0 321.08 328.62 Z" fill="#e3ebe2"/>
<path d="M314.69 331.02 A47.4 47.4 0 0 1 313.65 329.96 L318.07 325.76 A41.3 41.3 0 0 0 318.98 326.68 Z" fill="#ede1e9"/>
<path d="M313.33 329.62 A47.4 47.4 0 0 1 312.95 329.21 L317.46 325.11 A41.3 41.3 0 0 0 317.79 325.46 Z" fill="#e8ebe0"/>
<path d="M312.77 329.01 A47.4 47.4 0 0 1 312.19 328.35 L316.8 324.36 A41.3 41.3 0 0 0 317.3 324.93 Z" fill="#ede1e9"/>
<path d="M310.58 326.4 A47.4 47.4 0 0 1 309.79 325.35 L314.71 321.74 A41.3 41.3 0 0 0 315.4 322.65 Z" fill="#e5efea"/>
<path d="M309.66 325.17 A47.4 47.4 0 0 1 308.97 324.2 L314 320.74 A41.3 41.3 0 0 0 314.6 321.59 Z" fill="#f2eed8"/>
<path d="M308.7 323.8 A47.4 47.4 0 0 1 308.29 323.19 L313.4 319.86 A41.3 41.3 0 0 0 313.76 320.39 Z" fill="#ede1e9"/>
<path d="M308.03 322.78 A47.4 47.4 0 0 1 307.53 321.97 L312.73 318.79 A41.3 41.3 0 0 0 313.17 319.5 Z" fill="#ebe7dc"/>
<path d="M307.44 321.83 A47.4 47.4 0 0 1 306.54 320.27 L311.87 317.31 A41.3 41.3 0 0 0 312.66 318.67 Z" fill="#f6e2d2"/>
<path d="M299.07 322.84 A55.2 55.2 0 0 1 298.38 321.48 L304.22 318.63 A48.7 48.7 0 0 0 304.83 319.84 Z" fill="#fcdcc4"/>
<path d="M298.25 321.22 A55.2 55.2 0 0 1 298.02 320.72 L303.9 317.97 A48.7 48.7 0 0 0 304.11 318.41 Z" fill="#fde1cc"/>
<path d="M297.94 320.57 A55.2 55.2 0 0 1 297.33 319.2 L303.3 316.62 A48.7 48.7 0 0 0 303.84 317.83 Z" fill="#fcd9c0"/>
<path d="M296.9 318.17 A55.2 55.2 0 0 1 296.11 316.13 L302.22 313.91 A48.7 48.7 0 0 0 302.92 315.71 Z" fill="#fcdcc4"/>
<path d="M295.99 315.78 A55.2 55.2 0 0 1 295.25 313.55 L301.46 311.64 A48.7 48.7 0 0 0 302.11 313.61 Z" fill="#fcd9c0"/>
<path d="M295.11 313.09 A55.2 55.2 0 0 1 294.52 310.96 L300.81 309.35 A48.7 48.7 0 0 0 301.34 311.23 Z" fill="#fbd3b6"/>
<path d="M294.47 310.77 A55.2 55.2 0 0 1 293.89 308.23 L300.26 306.95 A48.7 48.7 0 0 0 300.77 309.19 Z" fill="#fbd3b6"/>
<path d="M293.82 307.87 A55.2 55.2 0 0 1 293.44 305.71 L299.87 304.72 A48.7 48.7 0 0 0 300.2 306.62 Z" fill="#fde1cc"/>
<path d="M293.39 305.36 A55.2 55.2 0 0 1 293.25 304.35 L299.7 303.52 A48.7 48.7 0 0 0 299.82 304.41 Z" fill="#fde1cc"/>
<path d="M293.2 303.91 A55.2 55.2 0 0 1 293.03 302.39 L299.51 301.79 A48.7 48.7 0 0 0 299.65 303.13 Z" fill="#fcdcc4"/>
<path d="M293.02 302.17 A55.2 55.2 0 0 1 292.93 301.13 L299.42 300.68 A48.7 48.7 0 0 0 299.49 301.6 Z" fill="#fde1cc"/>
<path d="M292.92 300.86 A55.2 55.2 0 0 1 292.87 299.98 L299.36 299.66 A48.7 48.7 0 0 0 299.4 300.44 Z" fill="#fde1cc"/>
<path d="M305.93 319.14 A47.4 47.4 0 0 1 305.7 318.69 L311.14 315.93 A41.3 41.3 0 0 0 311.35 316.33 Z" fill="#e3ebe2"/>
<path d="M305.04 317.32 A47.4 47.4 0 0 1 304.64 316.45 L310.22 313.98 A41.3 41.3 0 0 0 310.57 314.75 Z" fill="#e3ebe2"/>
<path d="M303.9 314.68 A47.4 47.4 0 0 1 303.6 313.91 L309.32 311.77 A41.3 41.3 0 0 0 309.58 312.45 Z" fill="#e5efea"/>
<path d="M303.45 313.48 A47.4 47.4 0 0 1 303.18 312.72 L308.95 310.73 A41.3 41.3 0 0 0 309.18 311.4 Z" fill="#f6e2d2"/>
<path d="M302.62 311 A47.4 47.4 0 0 1 302.33 309.98 L308.2 308.35 A41.3 41.3 0 0 0 308.46 309.23 Z" fill="#e8ebe0"/>
<path d="M302.16 309.37 A47.4 47.4 0 0 1 301.77 307.76 L307.72 306.42 A41.3 41.3 0 0 0 308.06 307.82 Z" fill="#ebe7dc"/>
<path d="M301.71 307.5 A47.4 47.4 0 0 1 301.56 306.81 L307.54 305.58 A41.3 41.3 0 0 0 307.67 306.18 Z" fill="#ede1e9"/>
<path d="M301.48 306.39 A47.4 47.4 0 0 1 301.19 304.76 L307.22 303.8 A41.3 41.3 0 0 0 307.47 305.22 Z" fill="#e6e5ec"/>
<path d="M301.12 304.3 A47.4 47.4 0 0 1 301.07 303.98 L307.11 303.12 A41.3 41.3 0 0 0 307.15 303.4 Z" fill="#e8ebe0"/>
<path d="M301.03 303.64 A47.4 47.4 0 0 1 300.97 303.23 L307.02 302.47 A41.3 41.3 0 0 0 307.07 302.83 Z" fill="#e6e5ec"/>
<path d="M300.93 302.86 A47.4 47.4 0 0 1 300.85 302.15 L306.92 301.52 A41.3 41.3 0 0 0 306.99 302.15 Z" fill="#e5efea"/>
<path d="M300.8 301.67 A47.4 47.4 0 0 1 300.72 300.68 L306.81 300.25 A41.3 41.3 0 0 0 306.88 301.11 Z" fill="#e6e5ec"/>
<path d="M300.69 300.17 A47.4 47.4 0 0 1 300.64 299.21 L306.73 298.97 A41.3 41.3 0 0 0 306.78 299.8 Z" fill="#f3e3d6"/>
<path d="M292.81 298.23 A55.2 55.2 0 0 1 292.8 296.84 L299.3 296.89 A48.7 48.7 0 0 0 299.31 298.12 Z" fill="#fcd9c0"/>
<path d="M292.8 296.67 A55.2 55.2 0 0 1 292.89 294.23 L299.38 294.6 A48.7 48.7 0 0 0 299.3 296.75 Z" fill="#fcdcc4"/>
<path d="M292.91 293.89 A55.2 55.2 0 0 1 293.04 292.21 L299.51 292.81 A48.7 48.7 0 0 0 299.39 294.29 Z" fill="#fbd3b6"/>
<path d="M293.08 291.76 A55.2 55.2 0 0 1 293.13 291.27 L299.59 291.98 A48.7 48.7 0 0 0 299.55 292.42 Z" fill="#fcdcc4"/>
<path d="M293.27 290.11 A55.2 55.2 0 0 1 293.55 288.21 L299.96 289.28 A48.7 48.7 0 0 0 299.72 290.95 Z" fill="#fbd3b6"/>
<path d="M293.59 288.02 A55.2 55.2 0 0 1 293.74 287.15 L300.13 288.34 A48.7 48.7 0 0 0 299.99 289.11 Z" fill="#fcdcc4"/>
<path d="M293.82 286.74 A55.2 55.2 0 0 1 293.98 285.93 L300.34 287.27 A48.7 48.7 0 0 0 300.2 287.98 Z" fill="#fde1cc"/>
<path d="M294.06 285.58 A55.2 55.2 0 0 1 294.74 282.79 L301.01 284.5 A48.7 48.7 0 0 0 300.41 286.96 Z" fill="#fcdcc4"/>
<path d="M294.84 282.42 A55.2 55.2 0 0 1 294.95 282.03 L301.2 283.83 A48.7 48.7 0 0 0 301.1 284.17 Z" fill="#fcdcc4"/>
<path d="M295 281.87 A55.2 55.2 0 0 1 295.6 279.93 L301.77 281.98 A48.7 48.7 0 0 0 301.24 283.68 Z" fill="#fcd9c0"/>
<path d="M295.68 279.71 A55.2 55.2 0 0 1 296.35 277.83 L302.43 280.12 A48.7 48.7 0 0 0 301.84 281.78 Z" fill="#fde1cc"/>
<path d="M296.49 277.47 A55.2 55.2 0 0 1 296.87 276.49 L302.89 278.94 A48.7 48.7 0 0 0 302.55 279.8 Z" fill="#fcdcc4"/>
<path d="M298.21 273.47 A55.2 55.2 0 0 1 299.44 271.05 L305.16 274.15 A48.7 48.7 0 0 0 304.07 276.28 Z" fill="#fcd9c0"/>
<path d="M299.65 270.67 A55.2 55.2 0 0 1 299.86 270.3 L305.52 273.48 A48.7 48.7 0 0 0 305.34 273.8 Z" fill="#fbd3b6"/>
<path d="M300.07 269.92 A55.2 55.2 0 0 1 300.52 269.15 L306.11 272.47 A48.7 48.7 0 0 0 305.71 273.15 Z" fill="#fde1cc"/>
<path d="M300.62 268.97 A55.2 55.2 0 0 1 301.29 267.89 L306.79 271.35 A48.7 48.7 0 0 0 306.2 272.31 Z" fill="#fcdcc4"/>
<path d="M300.61 298.08 A47.4 47.4 0 0 1 300.6 296.75 L306.7 296.82 A41.3 41.3 0 0 0 306.71 297.98 Z" fill="#f4e6d8"/>
<path d="M300.61 296.35 A47.4 47.4 0 0 1 300.67 294.78 L306.76 295.11 A41.3 41.3 0 0 0 306.71 296.47 Z" fill="#ebe7dc"/>
<path d="M300.69 294.4 A47.4 47.4 0 0 1 300.79 293.02 L306.87 293.57 A41.3 41.3 0 0 0 306.78 294.77 Z" fill="#f2eed8"/>
<path d="M300.85 292.46 A47.4 47.4 0 0 1 300.94 291.6 L307 292.34 A41.3 41.3 0 0 0 306.92 293.08 Z" fill="#e8ebe0"/>
<path d="M301.02 290.99 A47.4 47.4 0 0 1 301.09 290.52 L307.12 291.39 A41.3 41.3 0 0 0 307.07 291.8 Z" fill="#e3ebe2"/>
<path d="M301.32 289.05 A47.4 47.4 0 0 1 301.38 288.76 L307.38 289.86 A41.3 41.3 0 0 0 307.33 290.11 Z" fill="#ebe7dc"/>
<path d="M301.47 288.25 A47.4 47.4 0 0 1 301.76 286.88 L307.71 288.22 A41.3 41.3 0 0 0 307.46 289.42 Z" fill="#e8ebe0"/>
<path d="M302.62 283.62 A47.4 47.4 0 0 1 303.03 282.32 L308.82 284.25 A41.3 41.3 0 0 0 308.46 285.38 Z" fill="#e6e5ec"/>
<path d="M303.11 282.07 A47.4 47.4 0 0 1 303.25 281.66 L309.01 283.68 A41.3 41.3 0 0 0 308.89 284.03 Z" fill="#e3ebe2"/>
<path d="M303.45 281.12 A47.4 47.4 0 0 1 303.88 279.96 L309.56 282.19 A41.3 41.3 0 0 0 309.18 283.2 Z" fill="#e3ebe2"/>
<path d="M303.97 279.75 A47.4 47.4 0 0 1 304.54 278.37 L310.14 280.81 A41.3 41.3 0 0 0 309.64 282.01 Z" fill="#f2eed8"/>
<path d="M304.67 278.07 A47.4 47.4 0 0 1 305.05 277.24 L310.58 279.82 A41.3 41.3 0 0 0 310.25 280.55 Z" fill="#f2eed8"/>
<path d="M305.32 276.67 A47.4 47.4 0 0 1 305.46 276.38 L310.94 279.07 A41.3 41.3 0 0 0 310.82 279.33 Z" fill="#e5efea"/>
<path d="M305.71 275.89 A47.4 47.4 0 0 1 306.26 274.83 L311.63 277.73 A41.3 41.3 0 0 0 311.15 278.65 Z" fill="#f2eed8"/>
<path d="M306.49 274.42 A47.4 47.4 0 0 1 306.63 274.16 L311.96 277.14 A41.3 41.3 0 0 0 311.83 277.36 Z" fill="#ede1e9"/>
<path d="M306.84 273.79 A47.4 47.4 0 0 1 307.04 273.44 L312.31 276.51 A41.3 41.3 0 0 0 312.14 276.82 Z" fill="#ebe7dc"/>
<path d="M307.68 272.39 A47.4 47.4 0 0 1 307.89 272.04 L313.05 275.29 A41.3 41.3 0 0 0 312.86 275.59 Z" fill="#ebe7dc"/>
<path d="M301.86 267 A55.2 55.2 0 0 1 303.14 265.14 L308.42 268.92 A48.7 48.7 0 0 0 307.29 270.57 Z" fill="#fde1cc"/>
<path d="M303.32 264.89 A55.2 55.2 0 0 1 304.29 263.59 L309.43 267.56 A48.7 48.7 0 0 0 308.58 268.7 Z" fill="#fbd3b6"/>
<path d="M305.96 261.53 A55.2 55.2 0 0 1 307.17 260.15 L311.98 264.52 A48.7 48.7 0 0 0 310.91 265.74 Z" fill="#fbd3b6"/>
<path d="M307.48 259.81 A55.2 55.2 0 0 1 308.15 259.11 L312.84 263.6 A48.7 48.7 0 0 0 312.25 264.22 Z" fill="#fcd9c0"/>
<path d="M308.36 258.88 A55.2 55.2 0 0 1 310.41 256.88 L314.84 261.64 A48.7 48.7 0 0 0 313.03 263.41 Z" fill="#fcd9c0"/>
<path d="M310.67 256.64 A55.2 55.2 0 0 1 311.62 255.78 L315.9 260.67 A48.7 48.7 0 0 0 315.07 261.42 Z" fill="#fcdcc4"/>
<path d="M311.96 255.49 A55.2 55.2 0 0 1 313.69 254.06 L317.73 259.15 A48.7 48.7 0 0 0 316.2 260.41 Z" fill="#fcd9c0"/>
<path d="M313.9 253.89 A55.2 55.2 0 0 1 314.81 253.19 L318.72 258.39 A48.7 48.7 0 0 0 317.92 259 Z" fill="#fbd3b6"/>
<path d="M315.03 253.03 A55.2 55.2 0 0 1 317.15 251.53 L320.78 256.92 A48.7 48.7 0 0 0 318.91 258.24 Z" fill="#fcdcc4"/>
<path d="M317.31 251.42 A55.2 55.2 0 0 1 318.88 250.41 L322.31 255.93 A48.7 48.7 0 0 0 320.92 256.82 Z" fill="#fcd9c0"/>
<path d="M319.1 250.27 A55.2 55.2 0 0 1 320.14 249.65 L323.42 255.26 A48.7 48.7 0 0 0 322.51 255.81 Z" fill="#fcdcc4"/>
<path d="M320.45 249.46 A55.2 55.2 0 0 1 321.58 248.84 L324.69 254.54 A48.7 48.7 0 0 0 323.7 255.1 Z" fill="#fcdcc4"/>
<path d="M308.38 271.27 A47.4 47.4 0 0 1 308.72 270.77 L313.78 274.18 A41.3 41.3 0 0 0 313.48 274.62 Z" fill="#e6e5ec"/>
<path d="M308.96 270.42 A47.4 47.4 0 0 1 309.34 269.87 L314.32 273.4 A41.3 41.3 0 0 0 313.98 273.88 Z" fill="#e8ebe0"/>
<path d="M309.48 269.68 A47.4 47.4 0 0 1 309.77 269.28 L314.69 272.88 A41.3 41.3 0 0 0 314.44 273.23 Z" fill="#e5efea"/>
<path d="M310.05 268.9 A47.4 47.4 0 0 1 310.53 268.27 L315.35 272.01 A41.3 41.3 0 0 0 314.93 272.56 Z" fill="#e6e5ec"/>
<path d="M311.98 266.49 A47.4 47.4 0 0 1 312.82 265.53 L317.35 269.62 A41.3 41.3 0 0 0 316.61 270.46 Z" fill="#f3e3d6"/>
<path d="M313.26 265.05 A47.4 47.4 0 0 1 314.3 263.97 L318.64 268.26 A41.3 41.3 0 0 0 317.73 269.2 Z" fill="#ede1e9"/>
<path d="M315.03 263.25 A47.4 47.4 0 0 1 316.23 262.13 L320.32 266.65 A41.3 41.3 0 0 0 319.27 267.63 Z" fill="#ebe7dc"/>
<path d="M316.5 261.88 A47.4 47.4 0 0 1 317.63 260.91 L321.54 265.59 A41.3 41.3 0 0 0 320.55 266.44 Z" fill="#f4e6d8"/>
<path d="M318.13 260.49 A47.4 47.4 0 0 1 318.69 260.05 L322.46 264.84 A41.3 41.3 0 0 0 321.98 265.23 Z" fill="#f2eed8"/>
<path d="M319.06 259.76 A47.4 47.4 0 0 1 319.76 259.23 L323.4 264.13 A41.3 41.3 0 0 0 322.78 264.59 Z" fill="#ede1e9"/>
<path d="M320.18 258.93 A47.4 47.4 0 0 1 321.13 258.25 L324.59 263.28 A41.3 41.3 0 0 0 323.76 263.86 Z" fill="#e6e5ec"/>
<path d="M323.02 257.02 A47.4 47.4 0 0 1 324.02 256.41 L327.1 261.68 A41.3 41.3 0 0 0 326.23 262.2 Z" fill="#f3e3d6"/>
<path d="M324.44 256.17 A47.4 47.4 0 0 1 325.28 255.7 L328.2 261.06 A41.3 41.3 0 0 0 327.47 261.46 Z" fill="#e3ebe2"/>
<path d="M322.49 248.35 A55.2 55.2 0 0 1 323.73 247.72 L326.58 253.56 A48.7 48.7 0 0 0 325.49 254.11 Z" fill="#fbd3b6"/>
<path d="M323.93 247.62 A55.2 55.2 0 0 1 325.24 247.01 L327.92 252.93 A48.7 48.7 0 0 0 326.77 253.47 Z" fill="#fcdcc4"/>
<path d="M325.53 246.88 A55.2 55.2 0 0 1 327.41 246.08 L329.84 252.11 A48.7 48.7 0 0 0 328.18 252.82 Z" fill="#fde1cc"/>
<path d="M327.79 245.93 A55.2 55.2 0 0 1 329.06 245.45 L331.29 251.56 A48.7 48.7 0 0 0 330.17 251.98 Z" fill="#fcd9c0"/>
<path d="M329.21 245.4 A55.2 55.2 0 0 1 330.86 244.83 L332.88 251.01 A48.7 48.7 0 0 0 331.42 251.51 Z" fill="#fbd3b6"/>
<path d="M331.17 244.73 A55.2 55.2 0 0 1 331.77 244.54 L333.68 250.75 A48.7 48.7 0 0 0 333.15 250.92 Z" fill="#fbd3b6"/>
<path d="M332.14 244.43 A55.2 55.2 0 0 1 333.75 243.97 L335.43 250.25 A48.7 48.7 0 0 0 334.01 250.65 Z" fill="#fde1cc"/>
<path d="M335.64 243.5 A55.2 55.2 0 0 1 337.7 243.07 L338.91 249.46 A48.7 48.7 0 0 0 337.1 249.84 Z" fill="#fcd9c0"/>
<path d="M338.08 243 A55.2 55.2 0 0 1 339.98 242.69 L340.92 249.12 A48.7 48.7 0 0 0 339.25 249.39 Z" fill="#fde1cc"/>
<path d="M340.21 242.65 A55.2 55.2 0 0 1 341.59 242.47 L342.34 248.93 A48.7 48.7 0 0 0 341.13 249.09 Z" fill="#fcdcc4"/>
<path d="M342.04 242.42 A55.2 55.2 0 0 1 343.99 242.25 L344.46 248.73 A48.7 48.7 0 0 0 342.74 248.89 Z" fill="#fde1cc"/>
<path d="M344.17 242.23 A55.2 55.2 0 0 1 345.31 242.17 L345.63 248.66 A48.7 48.7 0 0 0 344.62 248.72 Z" fill="#fbd3b6"/>
<path d="M345.79 242.14 A55.2 55.2 0 0 1 346.27 242.13 L346.47 248.62 A48.7 48.7 0 0 0 346.05 248.64 Z" fill="#fbd3b6"/>
<path d="M326.27 255.18 A47.4 47.4 0 0 1 327.63 254.5 L330.25 260.01 A41.3 41.3 0 0 0 329.06 260.6 Z" fill="#f6e2d2"/>
<path d="M332.63 252.46 A47.4 47.4 0 0 1 333.83 252.07 L335.66 257.89 A41.3 41.3 0 0 0 334.61 258.23 Z" fill="#f6e2d2"/>
<path d="M334.16 251.97 A47.4 47.4 0 0 1 335.68 251.53 L337.27 257.42 A41.3 41.3 0 0 0 335.94 257.8 Z" fill="#ede1e9"/>
<path d="M336.17 251.4 A47.4 47.4 0 0 1 337.92 250.98 L339.21 256.95 A41.3 41.3 0 0 0 337.69 257.31 Z" fill="#f6e2d2"/>
<path d="M338.08 250.95 A47.4 47.4 0 0 1 339.44 250.68 L340.54 256.68 A41.3 41.3 0 0 0 339.36 256.91 Z" fill="#e6e5ec"/>
<path d="M339.92 250.59 A47.4 47.4 0 0 1 340.66 250.47 L341.61 256.5 A41.3 41.3 0 0 0 340.96 256.6 Z" fill="#e8ebe0"/>
<path d="M341.14 250.4 A47.4 47.4 0 0 1 342.41 250.23 L343.13 256.29 A41.3 41.3 0 0 0 342.02 256.44 Z" fill="#f2eed8"/>
<path d="M343.94 250.07 A47.4 47.4 0 0 1 345.42 249.97 L345.75 256.06 A41.3 41.3 0 0 0 344.47 256.15 Z" fill="#e5efea"/>
<path d="M345.9 249.95 A47.4 47.4 0 0 1 346.17 249.94 L346.41 256.03 A41.3 41.3 0 0 0 346.17 256.04 Z" fill="#e3ebe2"/>
<path d="M347.63 225.7 A71.6 71.6 0 0 1 398.27 246.32 L395.54 249.1 A67.7 67.7 0 0 0 347.65 229.6 Z" fill="#fdbd8a"/>
<path d="M399.16 247.2 A71.6 71.6 0 0 1 419.6 297.55 L415.7 297.54 A67.7 67.7 0 0 0 396.37 249.93 Z" fill="#fff58c"/>
<path d="M419.58 298.8 A71.6 71.6 0 0 1 401.38 345.02 L398.47 342.42 A67.7 67.7 0 0 0 415.69 298.72 Z" fill="#3462ba"/>
<path d="M400.54 345.95 A71.6 71.6 0 0 1 356.23 368.43 L355.78 364.55 A67.7 67.7 0 0 0 397.67 343.3 Z" fill="#e5127a"/>
<path d="M354.99 368.56 A71.6 71.6 0 0 1 314.06 360.34 L315.9 356.91 A67.7 67.7 0 0 0 354.61 364.68 Z" fill="#6b80c9"/>
<path d="M312.96 359.74 A71.6 71.6 0 0 1 285.26 331.79 L288.67 329.91 A67.7 67.7 0 0 0 314.87 356.34 Z" fill="#f04d1c"/>
<path d="M284.66 330.69 A71.6 71.6 0 0 1 276.45 300.05 L280.35 299.9 A67.7 67.7 0 0 0 288.11 328.87 Z" fill="#5ba02a"/>
<path d="M276.42 298.8 A71.6 71.6 0 0 1 287.41 259.15 L290.71 261.22 A67.7 67.7 0 0 0 280.31 298.72 Z" fill="#f010f0"/>
<path d="M288.09 258.09 A71.6 71.6 0 0 1 313.73 234.44 L315.59 237.86 A67.7 67.7 0 0 0 291.35 260.23 Z" fill="#b63e5c"/>
<path d="M314.83 233.85 A71.6 71.6 0 0 1 345.75 225.74 L345.87 229.63 A67.7 67.7 0 0 0 316.63 237.3 Z" fill="#15a01e"/>
<text class="cn" font-size="2.2" fill="#fff" fill-opacity="0.75" text-anchor="middle" dy="0.8" transform="translate(374.26 232.79) rotate(22.15)">contig00001</text>
<text class="cn" font-size="2.2" fill="#fff" fill-opacity="0.75" text-anchor="middle" dy="0.8" transform="translate(412.53 271.1) rotate(67.9)">contig00002</text>
<text class="cn" font-size="2.2" fill="#fff" fill-opacity="0.75" text-anchor="middle" dy="0.8" transform="translate(412.8 322.83) rotate(291.5)">contig00003</text>
<text class="cn" font-size="2.2" fill="#fff" fill-opacity="0.75" text-anchor="middle" dy="0.8" transform="translate(379.51 359.41) rotate(333.1)">contig00004</text>
<text class="cn" font-size="2.2" fill="#fff" fill-opacity="0.75" text-anchor="middle" dy="0.8" transform="translate(334.29 365.59) rotate(371.35)">contig00005</text>
<text class="cn" font-size="2.2" fill="#fff" fill-opacity="0.75" text-anchor="middle" dy="0.8" transform="translate(298.54 346.33) rotate(405.25)">contig00006</text>
<text class="cn" font-size="2.2" fill="#fff" fill-opacity="0.75" text-anchor="middle" dy="0.8" transform="translate(280.72 315.33) rotate(435)">contig00007</text>
<text class="cn" font-size="2.2" fill="#fff" fill-opacity="0.75" text-anchor="middle" dy="0.8" transform="translate(280.88 278.69) rotate(285.5)">contig00008</text>
<text class="cn" font-size="2.2" fill="#fff" fill-opacity="0.75" text-anchor="middle" dy="0.8" transform="translate(300.77 246.11) rotate(317.3)">contig00009</text>
<text class="cn" font-size="2.2" fill="#fff" fill-opacity="0.75" text-anchor="middle" dy="0.8" transform="translate(330.33 229.93) rotate(345.3)">contig00010</text>
<path d="M347.62 224.5 A72.8 72.8 0 0 1 399.12 245.46" fill="none" stroke="#222" stroke-width="0.9"/>
<path d="M347.62 224.5 L347.61 223.3" stroke="#333" stroke-width="0.4"/>
<text class="s cl" font-size="3.9" text-anchor="middle" transform="translate(347.87 222) rotate(-0.1)" dy="1.25">0kb</text>
<path d="M360.58 225.6 L360.79 224.41" stroke="#333" stroke-width="0.4"/>
<text class="s cl" font-size="3.9" text-anchor="middle" transform="translate(361.27 223.18) rotate(10.15)" dy="1.25">700kb</text>
<path d="M373.14 228.98 L373.56 227.85" stroke="#333" stroke-width="0.4"/>
<text class="s cl" font-size="3.9" text-anchor="middle" transform="translate(374.25 226.72) rotate(20.4)" dy="1.25">1400kb</text>
<path d="M384.9 234.55 L385.51 233.51" stroke="#333" stroke-width="0.4"/>
<text class="s cl" font-size="3.9" text-anchor="middle" transform="translate(386.39 232.52) rotate(30.66)" dy="1.25">2100kb</text>
<path d="M395.48 242.11 L396.26 241.21" stroke="#333" stroke-width="0.4"/>
<text class="s cl" font-size="3.9" text-anchor="middle" transform="translate(397.31 240.39) rotate(40.91)" dy="1.25">2800kb</text>
<path d="M347.62 224.5 L347.62 223.8" stroke="#444" stroke-width="0.3"/>
<path d="M349.48 224.52 L349.49 223.82" stroke="#444" stroke-width="0.3"/>
<path d="M351.34 224.58 L351.37 223.88" stroke="#444" stroke-width="0.3"/>
<path d="M353.2 224.69 L353.25 223.99" stroke="#444" stroke-width="0.3"/>
<path d="M355.05 224.84 L355.12 224.15" stroke="#444" stroke-width="0.3"/>
<path d="M356.9 225.05 L356.99 224.35" stroke="#444" stroke-width="0.3"/>
<path d="M358.74 225.3 L358.85 224.6" stroke="#444" stroke-width="0.3"/>
<path d="M360.58 225.6 L360.7 224.91" stroke="#444" stroke-width="0.3"/>
<path d="M362.41 225.94 L362.55 225.25" stroke="#444" stroke-width="0.3"/>
<path d="M364.23 226.33 L364.39 225.65" stroke="#444" stroke-width="0.3"/>
<path d="M366.04 226.77 L366.21 226.09" stroke="#444" stroke-width="0.3"/>
<path d="M367.83 227.25 L368.03 226.58" stroke="#444" stroke-width="0.3"/>
<path d="M369.62 227.78 L369.83 227.12" stroke="#444" stroke-width="0.3"/>
<path d="M371.39 228.36 L371.61 227.7" stroke="#444" stroke-width="0.3"/>
<path d="M373.14 228.98 L373.38 228.32" stroke="#444" stroke-width="0.3"/>
<path d="M374.88 229.64 L375.14 228.99" stroke="#444" stroke-width="0.3"/>
<path d="M376.6 230.35 L376.88 229.71" stroke="#444" stroke-width="0.3"/>
<path d="M378.3 231.11 L378.59 230.47" stroke="#444" stroke-width="0.3"/>
<path d="M379.98 231.9 L380.29 231.27" stroke="#444" stroke-width="0.3"/>
<path d="M381.65 232.74 L381.97 232.12" stroke="#444" stroke-width="0.3"/>
<path d="M383.29 233.62 L383.62 233.01" stroke="#444" stroke-width="0.3"/>
<path d="M384.9 234.55 L385.26 233.94" stroke="#444" stroke-width="0.3"/>
<path d="M386.49 235.51 L386.86 234.91" stroke="#444" stroke-width="0.3"/>
<path d="M388.06 236.51 L388.44 235.93" stroke="#444" stroke-width="0.3"/>
<path d="M389.6 237.56 L390 236.98" stroke="#444" stroke-width="0.3"/>
<path d="M391.11 238.64 L391.53 238.08" stroke="#444" stroke-width="0.3"/>
<path d="M392.6 239.76 L393.03 239.21" stroke="#444" stroke-width="0.3"/>
<path d="M394.06 240.92 L394.5 240.38" stroke="#444" stroke-width="0.3"/>
<path d="M395.48 242.11 L395.94 241.58" stroke="#444" stroke-width="0.3"/>
<path d="M396.88 243.35 L397.35 242.83" stroke="#444" stroke-width="0.3"/>
<path d="M398.24 244.61 L398.72 244.11" stroke="#444" stroke-width="0.3"/>
<path d="M400.01 246.36 A72.8 72.8 0 0 1 420.8 297.55" fill="none" stroke="#222" stroke-width="0.9"/>
<path d="M400.01 246.36 L400.87 245.52" stroke="#333" stroke-width="0.4"/>
<text class="s cl" font-size="3.9" text-anchor="middle" transform="translate(401.98 244.8) rotate(45.8)" dy="1.25">0kb</text>
<path d="M408.25 256.44 L409.24 255.76" stroke="#333" stroke-width="0.4"/>
<text class="s cl" font-size="3.9" text-anchor="middle" transform="translate(410.46 255.25) rotate(56.05)" dy="1.25">700kb</text>
<path d="M414.56 267.81 L415.66 267.32" stroke="#333" stroke-width="0.4"/>
<text class="s cl" font-size="3.9" text-anchor="middle" transform="translate(416.95 267.04) rotate(66.3)" dy="1.25">1400kb</text>
<path d="M418.75 280.13 L419.91 279.84" stroke="#333" stroke-width="0.4"/>
<text class="s cl" font-size="3.9" text-anchor="middle" transform="translate(421.24 279.79) rotate(76.56)" dy="1.25">2100kb</text>
<path d="M420.67 292.99 L421.87 292.92" stroke="#333" stroke-width="0.4"/>
<text class="s cl" font-size="3.9" text-anchor="middle" transform="translate(423.18 293.11) rotate(86.81)" dy="1.25">2800kb</text>
<path d="M400.01 246.36 L400.51 245.87" stroke="#444" stroke-width="0.3"/>
<path d="M401.3 247.71 L401.81 247.23" stroke="#444" stroke-width="0.3"/>
<path d="M402.55 249.09 L403.07 248.63" stroke="#444" stroke-width="0.3"/>
<path d="M403.76 250.5 L404.3 250.05" stroke="#444" stroke-width="0.3"/>
<path d="M404.94 251.94 L405.49 251.5" stroke="#444" stroke-width="0.3"/>
<path d="M406.08 253.41 L406.64 252.99" stroke="#444" stroke-width="0.3"/>
<path d="M407.18 254.91 L407.75 254.5" stroke="#444" stroke-width="0.3"/>
<path d="M408.25 256.44 L408.83 256.04" stroke="#444" stroke-width="0.3"/>
<path d="M409.27 257.99 L409.86 257.61" stroke="#444" stroke-width="0.3"/>
<path d="M410.26 259.57 L410.86 259.2" stroke="#444" stroke-width="0.3"/>
<path d="M411.2 261.17 L411.81 260.82" stroke="#444" stroke-width="0.3"/>
<path d="M412.11 262.8 L412.72 262.47" stroke="#444" stroke-width="0.3"/>
<path d="M412.97 264.45 L413.59 264.13" stroke="#444" stroke-width="0.3"/>
<path d="M413.78 266.12 L414.42 265.82" stroke="#444" stroke-width="0.3"/>
<path d="M414.56 267.81 L415.2 267.53" stroke="#444" stroke-width="0.3"/>
<path d="M415.29 269.52 L415.94 269.25" stroke="#444" stroke-width="0.3"/>
<path d="M415.98 271.25 L416.63 271" stroke="#444" stroke-width="0.3"/>
<path d="M416.62 273 L417.28 272.76" stroke="#444" stroke-width="0.3"/>
<path d="M417.22 274.76 L417.89 274.54" stroke="#444" stroke-width="0.3"/>
<path d="M417.78 276.54 L418.45 276.34" stroke="#444" stroke-width="0.3"/>
<path d="M418.28 278.33 L418.96 278.14" stroke="#444" stroke-width="0.3"/>
<path d="M418.75 280.13 L419.43 279.96" stroke="#444" stroke-width="0.3"/>
<path d="M419.16 281.94 L419.85 281.79" stroke="#444" stroke-width="0.3"/>
<path d="M419.53 283.77 L420.22 283.64" stroke="#444" stroke-width="0.3"/>
<path d="M419.85 285.6 L420.54 285.49" stroke="#444" stroke-width="0.3"/>
<path d="M420.13 287.44 L420.82 287.34" stroke="#444" stroke-width="0.3"/>
<path d="M420.36 289.29 L421.05 289.21" stroke="#444" stroke-width="0.3"/>
<path d="M420.54 291.14 L421.24 291.08" stroke="#444" stroke-width="0.3"/>
<path d="M420.67 292.99 L421.37 292.95" stroke="#444" stroke-width="0.3"/>
<path d="M420.76 294.85 L421.46 294.83" stroke="#444" stroke-width="0.3"/>
<path d="M420.8 296.71 L421.5 296.71" stroke="#444" stroke-width="0.3"/>
<path d="M420.78 298.82 A72.8 72.8 0 0 1 402.27 345.82" fill="none" stroke="#222" stroke-width="0.9"/>
<path d="M420.78 298.82 L421.98 298.85" stroke="#333" stroke-width="0.4"/>
<text class="s cl" font-size="3.9" text-anchor="middle" transform="translate(423.24 300.19) rotate(272.2)" dy="1.25">0kb</text>
<path d="M419.35 311.75 L420.53 311.99" stroke="#333" stroke-width="0.4"/>
<text class="s cl" font-size="3.9" text-anchor="middle" transform="translate(421.53 313.54) rotate(282.45)" dy="1.25">700kb</text>
<path d="M415.64 324.22 L416.75 324.67" stroke="#333" stroke-width="0.4"/>
<text class="s cl" font-size="3.9" text-anchor="middle" transform="translate(417.46 326.36) rotate(292.7)" dy="1.25">1400kb</text>
<path d="M409.77 335.83 L410.79 336.47" stroke="#333" stroke-width="0.4"/>
<text class="s cl" font-size="3.9" text-anchor="middle" transform="translate(411.18 338.26) rotate(302.96)" dy="1.25">2100kb</text>
<path d="M420.78 298.82 L421.48 298.84" stroke="#444" stroke-width="0.3"/>
<path d="M420.72 300.68 L421.42 300.72" stroke="#444" stroke-width="0.3"/>
<path d="M420.61 302.54 L421.31 302.59" stroke="#444" stroke-width="0.3"/>
<path d="M420.45 304.4 L421.15 304.46" stroke="#444" stroke-width="0.3"/>
<path d="M420.25 306.25 L420.94 306.33" stroke="#444" stroke-width="0.3"/>
<path d="M420 308.09 L420.69 308.19" stroke="#444" stroke-width="0.3"/>
<path d="M419.7 309.93 L420.39 310.05" stroke="#444" stroke-width="0.3"/>
<path d="M419.35 311.75 L420.04 311.89" stroke="#444" stroke-width="0.3"/>
<path d="M418.96 313.57 L419.64 313.73" stroke="#444" stroke-width="0.3"/>
<path d="M418.52 315.38 L419.2 315.56" stroke="#444" stroke-width="0.3"/>
<path d="M418.03 317.18 L418.71 317.37" stroke="#444" stroke-width="0.3"/>
<path d="M417.5 318.96 L418.17 319.17" stroke="#444" stroke-width="0.3"/>
<path d="M416.93 320.73 L417.59 320.96" stroke="#444" stroke-width="0.3"/>
<path d="M416.3 322.49 L416.96 322.73" stroke="#444" stroke-width="0.3"/>
<path d="M415.64 324.22 L416.29 324.48" stroke="#444" stroke-width="0.3"/>
<path d="M414.93 325.94 L415.57 326.22" stroke="#444" stroke-width="0.3"/>
<path d="M414.17 327.64 L414.81 327.94" stroke="#444" stroke-width="0.3"/>
<path d="M413.38 329.33 L414.01 329.63" stroke="#444" stroke-width="0.3"/>
<path d="M412.54 330.99 L413.16 331.31" stroke="#444" stroke-width="0.3"/>
<path d="M411.66 332.62 L412.27 332.96" stroke="#444" stroke-width="0.3"/>
<path d="M410.73 334.24 L411.34 334.6" stroke="#444" stroke-width="0.3"/>
<path d="M409.77 335.83 L410.36 336.2" stroke="#444" stroke-width="0.3"/>
<path d="M408.76 337.4 L409.35 337.78" stroke="#444" stroke-width="0.3"/>
<path d="M407.72 338.94 L408.29 339.34" stroke="#444" stroke-width="0.3"/>
<path d="M406.63 340.45 L407.2 340.86" stroke="#444" stroke-width="0.3"/>
<path d="M405.51 341.93 L406.06 342.36" stroke="#444" stroke-width="0.3"/>
<path d="M404.35 343.39 L404.89 343.83" stroke="#444" stroke-width="0.3"/>
<path d="M403.16 344.82 L403.69 345.27" stroke="#444" stroke-width="0.3"/>
<path d="M401.42 346.76 A72.8 72.8 0 0 1 356.37 369.62" fill="none" stroke="#222" stroke-width="0.9"/>
<path d="M401.42 346.76 L402.3 347.58" stroke="#333" stroke-width="0.4"/>
<text class="s cl" font-size="3.9" text-anchor="middle" transform="translate(402.35 349.42) rotate(313.8)" dy="1.25">0kb</text>
<path d="M391.76 355.48 L392.48 356.44" stroke="#333" stroke-width="0.4"/>
<text class="s cl" font-size="3.9" text-anchor="middle" transform="translate(392.2 358.26) rotate(324.05)" dy="1.25">700kb</text>
<path d="M380.71 362.34 L381.24 363.41" stroke="#333" stroke-width="0.4"/>
<text class="s cl" font-size="3.9" text-anchor="middle" transform="translate(380.65 365.15) rotate(334.3)" dy="1.25">1400kb</text>
<path d="M368.61 367.12 L368.95 368.27" stroke="#333" stroke-width="0.4"/>
<text class="s cl" font-size="3.9" text-anchor="middle" transform="translate(368.05 369.88) rotate(344.56)" dy="1.25">2100kb</text>
<path d="M401.42 346.76 L401.93 347.24" stroke="#444" stroke-width="0.3"/>
<path d="M400.13 348.11 L400.64 348.6" stroke="#444" stroke-width="0.3"/>
<path d="M398.82 349.43 L399.31 349.93" stroke="#444" stroke-width="0.3"/>
<path d="M397.47 350.71 L397.94 351.22" stroke="#444" stroke-width="0.3"/>
<path d="M396.09 351.96 L396.55 352.48" stroke="#444" stroke-width="0.3"/>
<path d="M394.68 353.17 L395.12 353.71" stroke="#444" stroke-width="0.3"/>
<path d="M393.23 354.34 L393.67 354.89" stroke="#444" stroke-width="0.3"/>
<path d="M391.76 355.48 L392.18 356.04" stroke="#444" stroke-width="0.3"/>
<path d="M390.26 356.58 L390.66 357.15" stroke="#444" stroke-width="0.3"/>
<path d="M388.73 357.64 L389.12 358.22" stroke="#444" stroke-width="0.3"/>
<path d="M387.17 358.66 L387.55 359.25" stroke="#444" stroke-width="0.3"/>
<path d="M385.59 359.64 L385.95 360.24" stroke="#444" stroke-width="0.3"/>
<path d="M383.99 360.58 L384.33 361.19" stroke="#444" stroke-width="0.3"/>
<path d="M382.36 361.48 L382.69 362.1" stroke="#444" stroke-width="0.3"/>
<path d="M380.71 362.34 L381.02 362.97" stroke="#444" stroke-width="0.3"/>
<path d="M379.03 363.15 L379.33 363.79" stroke="#444" stroke-width="0.3"/>
<path d="M377.34 363.93 L377.62 364.57" stroke="#444" stroke-width="0.3"/>
<path d="M375.63 364.65 L375.89 365.3" stroke="#444" stroke-width="0.3"/>
<path d="M373.9 365.34 L374.15 365.99" stroke="#444" stroke-width="0.3"/>
<path d="M372.15 365.98 L372.38 366.64" stroke="#444" stroke-width="0.3"/>
<path d="M370.39 366.57 L370.6 367.24" stroke="#444" stroke-width="0.3"/>
<path d="M368.61 367.12 L368.81 367.79" stroke="#444" stroke-width="0.3"/>
<path d="M366.82 367.63 L367 368.3" stroke="#444" stroke-width="0.3"/>
<path d="M365.01 368.08 L365.18 368.76" stroke="#444" stroke-width="0.3"/>
<path d="M363.2 368.5 L363.34 369.18" stroke="#444" stroke-width="0.3"/>
<path d="M361.37 368.86 L361.5 369.55" stroke="#444" stroke-width="0.3"/>
<path d="M359.54 369.18 L359.65 369.87" stroke="#444" stroke-width="0.3"/>
<path d="M357.7 369.45 L357.79 370.14" stroke="#444" stroke-width="0.3"/>
<path d="M355.1 369.75 A72.8 72.8 0 0 1 313.49 361.4" fill="none" stroke="#222" stroke-width="0.9"/>
<path d="M355.1 369.75 L355.22 370.95" stroke="#333" stroke-width="0.4"/>
<text class="s cl" font-size="3.9" text-anchor="middle" transform="translate(354.04 372.36) rotate(355.4)" dy="1.25">0kb</text>
<path d="M342.1 369.86 L342 371.06" stroke="#333" stroke-width="0.4"/>
<text class="s cl" font-size="3.9" text-anchor="middle" transform="translate(340.58 372.23) rotate(365.65)" dy="1.25">700kb</text>
<path d="M329.28 367.65 L328.97 368.81" stroke="#333" stroke-width="0.4"/>
<text class="s cl" font-size="3.9" text-anchor="middle" transform="translate(327.37 369.72) rotate(375.9)" dy="1.25">1400kb</text>
<path d="M317.05 363.19 L316.54 364.28" stroke="#333" stroke-width="0.4"/>
<text class="s cl" font-size="3.9" text-anchor="middle" transform="translate(314.81 364.89) rotate(386.16)" dy="1.25">2100kb</text>
<path d="M355.1 369.75 L355.17 370.45" stroke="#444" stroke-width="0.3"/>
<path d="M353.25 369.91 L353.3 370.61" stroke="#444" stroke-width="0.3"/>
<path d="M351.39 370.02 L351.42 370.72" stroke="#444" stroke-width="0.3"/>
<path d="M349.53 370.08 L349.55 370.78" stroke="#444" stroke-width="0.3"/>
<path d="M347.67 370.1 L347.67 370.8" stroke="#444" stroke-width="0.3"/>
<path d="M345.81 370.07 L345.79 370.77" stroke="#444" stroke-width="0.3"/>
<path d="M343.95 369.99 L343.91 370.69" stroke="#444" stroke-width="0.3"/>
<path d="M342.1 369.86 L342.04 370.56" stroke="#444" stroke-width="0.3"/>
<path d="M340.24 369.69 L340.17 370.38" stroke="#444" stroke-width="0.3"/>
<path d="M338.4 369.46 L338.3 370.16" stroke="#444" stroke-width="0.3"/>
<path d="M336.55 369.19 L336.44 369.89" stroke="#444" stroke-width="0.3"/>
<path d="M334.72 368.88 L334.59 369.57" stroke="#444" stroke-width="0.3"/>
<path d="M332.89 368.52 L332.75 369.2" stroke="#444" stroke-width="0.3"/>
<path d="M331.08 368.11 L330.92 368.79" stroke="#444" stroke-width="0.3"/>
<path d="M329.28 367.65 L329.1 368.33" stroke="#444" stroke-width="0.3"/>
<path d="M327.48 367.15 L327.29 367.82" stroke="#444" stroke-width="0.3"/>
<path d="M325.7 366.6 L325.49 367.27" stroke="#444" stroke-width="0.3"/>
<path d="M323.94 366.01 L323.71 366.67" stroke="#444" stroke-width="0.3"/>
<path d="M322.19 365.37 L321.94 366.03" stroke="#444" stroke-width="0.3"/>
<path d="M320.46 364.69 L320.2 365.34" stroke="#444" stroke-width="0.3"/>
<path d="M318.75 363.96 L318.47 364.61" stroke="#444" stroke-width="0.3"/>
<path d="M317.05 363.19 L316.76 363.83" stroke="#444" stroke-width="0.3"/>
<path d="M315.38 362.38 L315.07 363.01" stroke="#444" stroke-width="0.3"/>
<path d="M313.73 361.53 L313.4 362.14" stroke="#444" stroke-width="0.3"/>
<path d="M312.37 360.79 A72.8 72.8 0 0 1 284.2 332.37" fill="none" stroke="#222" stroke-width="0.9"/>
<path d="M312.37 360.79 L311.79 361.83" stroke="#333" stroke-width="0.4"/>
<text class="s cl" font-size="3.9" text-anchor="middle" transform="translate(310.01 362.31) rotate(390.3)" dy="1.25">0kb</text>
<path d="M301.64 353.43 L300.88 354.36" stroke="#333" stroke-width="0.4"/>
<text class="s cl" font-size="3.9" text-anchor="middle" transform="translate(299.04 354.51) rotate(400.55)" dy="1.25">700kb</text>
<path d="M292.39 344.29 L291.48 345.06" stroke="#333" stroke-width="0.4"/>
<text class="s cl" font-size="3.9" text-anchor="middle" transform="translate(289.64 344.89) rotate(410.8)" dy="1.25">1400kb</text>
<path d="M284.92 333.64 L283.88 334.24" stroke="#333" stroke-width="0.4"/>
<text class="s cl" font-size="3.9" text-anchor="middle" transform="translate(282.11 333.74) rotate(421.06)" dy="1.25">2100kb</text>
<path d="M312.37 360.79 L312.03 361.4" stroke="#444" stroke-width="0.3"/>
<path d="M310.76 359.86 L310.4 360.46" stroke="#444" stroke-width="0.3"/>
<path d="M309.18 358.88 L308.8 359.48" stroke="#444" stroke-width="0.3"/>
<path d="M307.61 357.87 L307.23 358.45" stroke="#444" stroke-width="0.3"/>
<path d="M306.08 356.82 L305.68 357.39" stroke="#444" stroke-width="0.3"/>
<path d="M304.57 355.73 L304.15 356.29" stroke="#444" stroke-width="0.3"/>
<path d="M303.09 354.6 L302.66 355.15" stroke="#444" stroke-width="0.3"/>
<path d="M301.64 353.43 L301.2 353.97" stroke="#444" stroke-width="0.3"/>
<path d="M300.22 352.23 L299.76 352.76" stroke="#444" stroke-width="0.3"/>
<path d="M298.83 350.99 L298.36 351.51" stroke="#444" stroke-width="0.3"/>
<path d="M297.48 349.72 L296.99 350.22" stroke="#444" stroke-width="0.3"/>
<path d="M296.16 348.41 L295.66 348.9" stroke="#444" stroke-width="0.3"/>
<path d="M294.87 347.07 L294.35 347.54" stroke="#444" stroke-width="0.3"/>
<path d="M293.61 345.69 L293.09 346.16" stroke="#444" stroke-width="0.3"/>
<path d="M292.39 344.29 L291.86 344.74" stroke="#444" stroke-width="0.3"/>
<path d="M291.21 342.85 L290.66 343.29" stroke="#444" stroke-width="0.3"/>
<path d="M290.06 341.38 L289.51 341.81" stroke="#444" stroke-width="0.3"/>
<path d="M288.96 339.89 L288.39 340.3" stroke="#444" stroke-width="0.3"/>
<path d="M287.89 338.36 L287.31 338.76" stroke="#444" stroke-width="0.3"/>
<path d="M286.86 336.81 L286.27 337.19" stroke="#444" stroke-width="0.3"/>
<path d="M285.87 335.24 L285.27 335.6" stroke="#444" stroke-width="0.3"/>
<path d="M284.92 333.64 L284.31 333.99" stroke="#444" stroke-width="0.3"/>
<path d="M283.6 331.25 A72.8 72.8 0 0 1 275.25 300.09" fill="none" stroke="#222" stroke-width="0.9"/>
<path d="M283.6 331.25 L282.54 331.81" stroke="#333" stroke-width="0.4"/>
<text class="s cl" font-size="3.9" text-anchor="middle" transform="translate(280.79 331.25) rotate(423.2)" dy="1.25">0kb</text>
<path d="M278.59 319.25 L277.44 319.61" stroke="#333" stroke-width="0.4"/>
<text class="s cl" font-size="3.9" text-anchor="middle" transform="translate(275.82 318.75) rotate(433.45)" dy="1.25">700kb</text>
<path d="M275.79 306.54 L274.6 306.7" stroke="#333" stroke-width="0.4"/>
<text class="s cl" font-size="3.9" text-anchor="middle" transform="translate(273.15 305.56) rotate(443.7)" dy="1.25">1400kb</text>
<path d="M283.6 331.25 L282.98 331.58" stroke="#444" stroke-width="0.3"/>
<path d="M282.76 329.6 L282.13 329.91" stroke="#444" stroke-width="0.3"/>
<path d="M281.95 327.92 L281.32 328.21" stroke="#444" stroke-width="0.3"/>
<path d="M281.19 326.22 L280.55 326.5" stroke="#444" stroke-width="0.3"/>
<path d="M280.47 324.5 L279.82 324.76" stroke="#444" stroke-width="0.3"/>
<path d="M279.8 322.77 L279.14 323.01" stroke="#444" stroke-width="0.3"/>
<path d="M279.17 321.02 L278.51 321.24" stroke="#444" stroke-width="0.3"/>
<path d="M278.59 319.25 L277.92 319.46" stroke="#444" stroke-width="0.3"/>
<path d="M278.05 317.47 L277.38 317.66" stroke="#444" stroke-width="0.3"/>
<path d="M277.56 315.67 L276.88 315.85" stroke="#444" stroke-width="0.3"/>
<path d="M277.11 313.87 L276.43 314.03" stroke="#444" stroke-width="0.3"/>
<path d="M276.71 312.05 L276.02 312.19" stroke="#444" stroke-width="0.3"/>
<path d="M276.36 310.22 L275.67 310.35" stroke="#444" stroke-width="0.3"/>
<path d="M276.05 308.39 L275.36 308.49" stroke="#444" stroke-width="0.3"/>
<path d="M275.79 306.54 L275.1 306.63" stroke="#444" stroke-width="0.3"/>
<path d="M275.58 304.7 L274.88 304.77" stroke="#444" stroke-width="0.3"/>
<path d="M275.41 302.84 L274.71 302.9" stroke="#444" stroke-width="0.3"/>
<path d="M275.29 300.99 L274.59 301.02" stroke="#444" stroke-width="0.3"/>
<path d="M275.22 298.82 A72.8 72.8 0 0 1 286.4 258.51" fill="none" stroke="#222" stroke-width="0.9"/>
<path d="M275.22 298.82 L274.02 298.85" stroke="#333" stroke-width="0.4"/>
<text class="s cl" font-size="3.9" text-anchor="middle" transform="translate(272.7 297.56) rotate(449.8)" dy="1.25">0kb</text>
<path d="M276.11 285.85 L274.92 285.66" stroke="#333" stroke-width="0.4"/>
<text class="s cl" font-size="3.9" text-anchor="middle" transform="translate(273.68 285.19) rotate(279.25)" dy="1.25">700kb</text>
<path d="M279.29 273.23 L278.16 272.84" stroke="#333" stroke-width="0.4"/>
<text class="s cl" font-size="3.9" text-anchor="middle" transform="translate(277.02 272.16) rotate(289.5)" dy="1.25">1400kb</text>
<path d="M284.67 261.39 L283.63 260.8" stroke="#333" stroke-width="0.4"/>
<text class="s cl" font-size="3.9" text-anchor="middle" transform="translate(282.63 259.93) rotate(299.76)" dy="1.25">2100kb</text>
<path d="M275.22 298.82 L274.52 298.84" stroke="#444" stroke-width="0.3"/>
<path d="M275.2 296.96 L274.5 296.96" stroke="#444" stroke-width="0.3"/>
<path d="M275.23 295.1 L274.53 295.08" stroke="#444" stroke-width="0.3"/>
<path d="M275.31 293.24 L274.61 293.21" stroke="#444" stroke-width="0.3"/>
<path d="M275.44 291.39 L274.74 291.33" stroke="#444" stroke-width="0.3"/>
<path d="M275.62 289.53 L274.92 289.46" stroke="#444" stroke-width="0.3"/>
<path d="M275.84 287.69 L275.14 287.59" stroke="#444" stroke-width="0.3"/>
<path d="M276.11 285.85 L275.42 285.74" stroke="#444" stroke-width="0.3"/>
<path d="M276.42 284.01 L275.73 283.88" stroke="#444" stroke-width="0.3"/>
<path d="M276.79 282.19 L276.1 282.04" stroke="#444" stroke-width="0.3"/>
<path d="M277.2 280.37 L276.51 280.21" stroke="#444" stroke-width="0.3"/>
<path d="M277.65 278.57 L276.97 278.39" stroke="#444" stroke-width="0.3"/>
<path d="M278.15 276.78 L277.48 276.58" stroke="#444" stroke-width="0.3"/>
<path d="M278.7 275 L278.03 274.78" stroke="#444" stroke-width="0.3"/>
<path d="M279.29 273.23 L278.63 273" stroke="#444" stroke-width="0.3"/>
<path d="M279.93 271.49 L279.28 271.24" stroke="#444" stroke-width="0.3"/>
<path d="M280.61 269.75 L279.96 269.49" stroke="#444" stroke-width="0.3"/>
<path d="M281.34 268.04 L280.7 267.76" stroke="#444" stroke-width="0.3"/>
<path d="M282.11 266.35 L281.47 266.05" stroke="#444" stroke-width="0.3"/>
<path d="M282.92 264.67 L282.3 264.36" stroke="#444" stroke-width="0.3"/>
<path d="M283.78 263.02 L283.16 262.69" stroke="#444" stroke-width="0.3"/>
<path d="M284.67 261.39 L284.06 261.04" stroke="#444" stroke-width="0.3"/>
<path d="M285.61 259.78 L285.01 259.42" stroke="#444" stroke-width="0.3"/>
<path d="M287.08 257.44 A72.8 72.8 0 0 1 313.15 233.38" fill="none" stroke="#222" stroke-width="0.9"/>
<path d="M287.08 257.44 L286.08 256.78" stroke="#333" stroke-width="0.4"/>
<text class="s cl" font-size="3.9" text-anchor="middle" transform="translate(285.14 255.85) rotate(303.4)" dy="1.25">0kb</text>
<path d="M295.15 247.23 L294.28 246.41" stroke="#333" stroke-width="0.4"/>
<text class="s cl" font-size="3.9" text-anchor="middle" transform="translate(293.52 245.32) rotate(313.65)" dy="1.25">700kb</text>
<path d="M304.91 238.63 L304.2 237.66" stroke="#333" stroke-width="0.4"/>
<text class="s cl" font-size="3.9" text-anchor="middle" transform="translate(303.64 236.46) rotate(323.9)" dy="1.25">1400kb</text>
<path d="M287.08 257.44 L286.5 257.05" stroke="#444" stroke-width="0.3"/>
<path d="M288.12 255.89 L287.55 255.5" stroke="#444" stroke-width="0.3"/>
<path d="M289.2 254.38 L288.63 253.96" stroke="#444" stroke-width="0.3"/>
<path d="M290.32 252.89 L289.76 252.46" stroke="#444" stroke-width="0.3"/>
<path d="M291.47 251.43 L290.93 250.99" stroke="#444" stroke-width="0.3"/>
<path d="M292.66 250 L292.13 249.54" stroke="#444" stroke-width="0.3"/>
<path d="M293.89 248.6 L293.37 248.13" stroke="#444" stroke-width="0.3"/>
<path d="M295.15 247.23 L294.64 246.75" stroke="#444" stroke-width="0.3"/>
<path d="M296.45 245.9 L295.95 245.4" stroke="#444" stroke-width="0.3"/>
<path d="M297.78 244.6 L297.3 244.09" stroke="#444" stroke-width="0.3"/>
<path d="M299.14 243.33 L298.67 242.81" stroke="#444" stroke-width="0.3"/>
<path d="M300.54 242.1 L300.08 241.57" stroke="#444" stroke-width="0.3"/>
<path d="M301.96 240.9 L301.52 240.36" stroke="#444" stroke-width="0.3"/>
<path d="M303.42 239.75 L302.99 239.19" stroke="#444" stroke-width="0.3"/>
<path d="M304.91 238.63 L304.49 238.06" stroke="#444" stroke-width="0.3"/>
<path d="M306.42 237.54 L306.02 236.97" stroke="#444" stroke-width="0.3"/>
<path d="M307.96 236.5 L307.58 235.92" stroke="#444" stroke-width="0.3"/>
<path d="M309.53 235.5 L309.16 234.9" stroke="#444" stroke-width="0.3"/>
<path d="M311.12 234.53 L310.77 233.93" stroke="#444" stroke-width="0.3"/>
<path d="M312.74 233.61 L312.4 233" stroke="#444" stroke-width="0.3"/>
<path d="M314.27 232.78 A72.8 72.8 0 0 1 345.71 224.54" fill="none" stroke="#222" stroke-width="0.9"/>
<path d="M314.27 232.78 L313.72 231.72" stroke="#333" stroke-width="0.4"/>
<text class="s cl" font-size="3.9" text-anchor="middle" transform="translate(313.35 230.45) rotate(332.6)" dy="1.25">0kb</text>
<path d="M326.29 227.81 L325.94 226.67" stroke="#333" stroke-width="0.4"/>
<text class="s cl" font-size="3.9" text-anchor="middle" transform="translate(325.8 225.35) rotate(342.85)" dy="1.25">700kb</text>
<path d="M339.01 225.06 L338.86 223.87" stroke="#333" stroke-width="0.4"/>
<text class="s cl" font-size="3.9" text-anchor="middle" transform="translate(338.96 222.54) rotate(353.1)" dy="1.25">1400kb</text>
<path d="M314.27 232.78 L313.95 232.16" stroke="#444" stroke-width="0.3"/>
<path d="M315.93 231.94 L315.62 231.31" stroke="#444" stroke-width="0.3"/>
<path d="M317.61 231.15 L317.32 230.51" stroke="#444" stroke-width="0.3"/>
<path d="M319.31 230.39 L319.04 229.75" stroke="#444" stroke-width="0.3"/>
<path d="M321.03 229.68 L320.77 229.03" stroke="#444" stroke-width="0.3"/>
<path d="M322.77 229.01 L322.53 228.35" stroke="#444" stroke-width="0.3"/>
<path d="M324.52 228.39 L324.3 227.73" stroke="#444" stroke-width="0.3"/>
<path d="M326.29 227.81 L326.08 227.14" stroke="#444" stroke-width="0.3"/>
<path d="M328.08 227.28 L327.88 226.61" stroke="#444" stroke-width="0.3"/>
<path d="M329.87 226.79 L329.7 226.12" stroke="#444" stroke-width="0.3"/>
<path d="M331.68 226.35 L331.52 225.67" stroke="#444" stroke-width="0.3"/>
<path d="M333.5 225.96 L333.36 225.27" stroke="#444" stroke-width="0.3"/>
<path d="M335.33 225.61 L335.21 224.92" stroke="#444" stroke-width="0.3"/>
<path d="M337.16 225.31 L337.06 224.62" stroke="#444" stroke-width="0.3"/>
<path d="M339.01 225.06 L338.92 224.36" stroke="#444" stroke-width="0.3"/>
<path d="M340.86 224.85 L340.79 224.15" stroke="#444" stroke-width="0.3"/>
<path d="M342.71 224.69 L342.66 223.99" stroke="#444" stroke-width="0.3"/>
<path d="M344.57 224.58 L344.54 223.88" stroke="#444" stroke-width="0.3"/>
<text class="s cg" x="312.6" y="290.5" font-size="6.45">Sample ID:zz</text>
<text class="s cg" x="312.6" y="298.0" font-size="6.45">Genome size: 24,580,202 bp</text>
<text class="s cg" x="312.6" y="305.8" font-size="6.45">n.Contig shown:10</text>
<text class="s" x="458.8" y="221.8" font-size="5.6" textLength="46.3" lengthAdjust="spacingAndGlyphs">From outer to inner:</text>
<text class="s" x="461.9" y="228.8" font-size="5.9" textLength="10.4" lengthAdjust="spacingAndGlyphs">GC%</text>
<text class="k" x="472.6" y="228.8" font-size="5.6">、</text>
<text class="k" x="480.9" y="228.8" font-size="5.7" textLength="19.9" lengthAdjust="spacingAndGlyphs">D\depth</text>
<text class="k" x="500.8" y="228.8" font-size="5.6">、</text>
<text class="k" x="508.5" y="228.8" font-size="5.7" textLength="36.7" lengthAdjust="spacingAndGlyphs">Gene category</text>
<text class="k" x="461.6" y="237.0" font-size="5.7" textLength="79.2" lengthAdjust="spacingAndGlyphs">and COG category respectively</text>
<path d="M458.5 250.9 H463.6" stroke="#9c9ce0" stroke-width="0.7"/>
<text class="s" x="468.5" y="252.6" font-size="5.9" textLength="12.4" lengthAdjust="spacingAndGlyphs">GC%</text>
<text class="k" x="482.6" y="252.6" font-size="5.7" textLength="51.0" lengthAdjust="spacingAndGlyphs">(Average: 47.63 % )</text>
<text class="s" x="461.9" y="260.4" font-size="5.9" textLength="24.2" lengthAdjust="spacingAndGlyphs">Coverage:</text>
<text class="k" x="487.0" y="260.4" font-size="5.7" textLength="11.2" lengthAdjust="spacingAndGlyphs">99%</text>
<rect x="461.6" y="263.3" width="3.8" height="3.5" fill="#f4a0a0"/>
<text class="s" x="468.8" y="266.5" font-size="5.75" textLength="57.0" lengthAdjust="spacingAndGlyphs">Depth (average: 35.24X)</text>
<text class="s" x="459.0" y="274.9" font-size="5.8">Gene category</text>
<rect x="459.0" y="277.3" width="5.4" height="3.6" fill="#f9b886"/>
<text class="s" x="465.5" y="280.7" font-size="5.8">CDS</text>
<rect x="459.0" y="282.5" width="5.4" height="3.6" fill="#2e5eab"/>
<text class="s" x="465.5" y="285.9" font-size="5.8">rRNA</text>
<rect x="459.0" y="287.5" width="5.4" height="3.6" fill="#fff39a"/>
<text class="s" x="465.5" y="290.9" font-size="5.8">tRNA</text>
</svg>
</body></html>
